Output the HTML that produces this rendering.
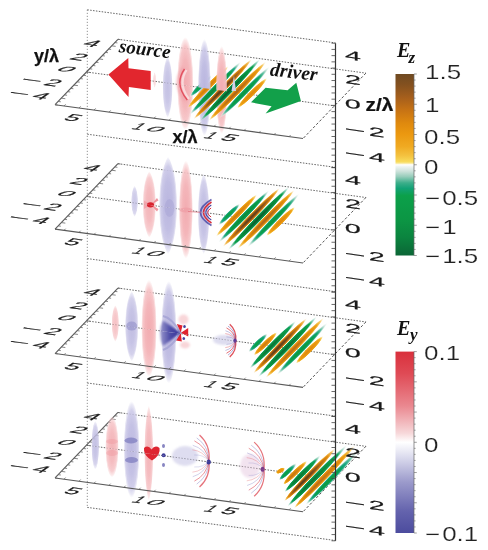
<!DOCTYPE html>
<html><head><meta charset="utf-8"><title>Fields</title><style>
html,body{margin:0;padding:0;background:#fff;}
svg{display:block;}
.dot{stroke:#555;stroke-width:0.9;stroke-dasharray:1.5 1.4;fill:none}
.vdot{stroke:#888;stroke-width:0.9;stroke-dasharray:1.2 1.8;fill:none}
.dash{stroke:#555;stroke-width:1;stroke-dasharray:2.6 2;fill:none}
.ax{stroke:#5a5a5a;stroke-width:1.1;fill:none}
.zax{stroke:#333;stroke-width:1.2}
.tk{stroke:#666;stroke-width:0.8}
.ztk{stroke:#444;stroke-width:0.8}
.cbax{stroke:#666;stroke-width:0.7}
.cbt{stroke:#777;stroke-width:0.7}
.lab{font-family:"Liberation Sans",sans-serif;fill:#1a1a1a;stroke:#1a1a1a;stroke-width:0.15}
.axl{font-family:"Liberation Sans",sans-serif;font-weight:bold;fill:#111;stroke:#111;stroke-width:0.25}
.ann{font-family:"Liberation Serif",serif;font-weight:bold;font-style:italic;fill:#111}
.cbl{font-family:"Liberation Sans",sans-serif;fill:#222;stroke:#fff;stroke-width:0.2}
.ttl{font-family:"Liberation Serif",serif;font-weight:bold;font-style:italic;fill:#111}
</style></head>
<body><svg width="488" height="550" viewBox="0 0 488 550">
<defs><linearGradient id="gz" x1="0" y1="0" x2="0" y2="1">
<stop offset="0" stop-color="#6f4a22"/>
<stop offset="0.06" stop-color="#84511f"/>
<stop offset="0.13" stop-color="#a65f1c"/>
<stop offset="0.2" stop-color="#c77314"/>
<stop offset="0.27" stop-color="#df890e"/>
<stop offset="0.33" stop-color="#eb9810"/>
<stop offset="0.4" stop-color="#f0aa22"/>
<stop offset="0.45" stop-color="#f4c240"/>
<stop offset="0.485" stop-color="#f8dc5c"/>
<stop offset="0.494" stop-color="#fbeeb0"/>
<stop offset="0.5" stop-color="#ffffff"/>
<stop offset="0.51" stop-color="#eef4f2"/>
<stop offset="0.535" stop-color="#cfe3dc"/>
<stop offset="0.565" stop-color="#98cdbb"/>
<stop offset="0.6" stop-color="#3cae8a"/>
<stop offset="0.63" stop-color="#12a276"/>
<stop offset="0.67" stop-color="#0ca04a"/>
<stop offset="0.8" stop-color="#0c9644"/>
<stop offset="0.9" stop-color="#0b843f"/>
<stop offset="1" stop-color="#0b6636"/>
</linearGradient><linearGradient id="gy" x1="0" y1="0" x2="0" y2="1">
<stop offset="0" stop-color="#d9303c"/>
<stop offset="0.12" stop-color="#df4a55"/>
<stop offset="0.3" stop-color="#ea8890"/>
<stop offset="0.45" stop-color="#f7d8da"/>
<stop offset="0.5" stop-color="#ffffff"/>
<stop offset="0.58" stop-color="#dcdcee"/>
<stop offset="0.72" stop-color="#9b9acb"/>
<stop offset="0.88" stop-color="#6463ad"/>
<stop offset="1" stop-color="#4c4c9e"/>
</linearGradient><clipPath id="up0"><polygon points="0,-128 488,-128 488,126.8 -13.5,58.35"/></clipPath><clipPath id="dn0"><polygon points="0,372 488,372 488,126.8 -13.5,58.35"/></clipPath><clipPath id="up1"><polygon points="0,-3.6 488,-3.6 488,251.2 -13.5,182.75"/></clipPath><clipPath id="dn1"><polygon points="0,496.4 488,496.4 488,251.2 -13.5,182.75"/></clipPath><clipPath id="up2"><polygon points="0,120.8 488,120.8 488,375.6 -13.5,307.15"/></clipPath><clipPath id="dn2"><polygon points="0,620.8 488,620.8 488,375.6 -13.5,307.15"/></clipPath><clipPath id="up3"><polygon points="0,245.2 488,245.2 488,500 -13.5,431.55"/></clipPath><clipPath id="dn3"><polygon points="0,745.2 488,745.2 488,500 -13.5,431.55"/></clipPath><radialGradient id="rb"><stop offset="0" stop-color="#f2acb1"/><stop offset="0.5" stop-color="#f4b6ba"/><stop offset="0.8" stop-color="#f6c2c5" stop-opacity="0.9"/><stop offset="0.93" stop-color="#f8d0d2" stop-opacity="0.5"/><stop offset="1" stop-color="#fadcdd" stop-opacity="0"/></radialGradient>
<radialGradient id="bb"><stop offset="0" stop-color="#bab6df"/><stop offset="0.5" stop-color="#c1bee3"/><stop offset="0.8" stop-color="#cac7e7" stop-opacity="0.9"/><stop offset="0.93" stop-color="#d6d4ed" stop-opacity="0.5"/><stop offset="1" stop-color="#e2e0f2" stop-opacity="0"/></radialGradient>
<linearGradient id="wedge" x1="1" y1="0" x2="0" y2="0"><stop offset="0" stop-color="#34329a"/><stop offset="0.5" stop-color="#4a49a5"/><stop offset="1" stop-color="#7f7dbf" stop-opacity="0.7"/></linearGradient>
<filter id="bl05" x="-50%" y="-50%" width="200%" height="200%"><feGaussianBlur stdDeviation="0.35"/></filter>
<filter id="bl1" x="-50%" y="-20%" width="200%" height="140%"><feGaussianBlur stdDeviation="0.7"/></filter>
<filter id="bl2" x="-50%" y="-50%" width="200%" height="200%"><feGaussianBlur stdDeviation="1.2"/></filter><radialGradient id="sg1" fy="0.45"><stop offset="0" stop-color="#0d9d49" stop-opacity="1"/><stop offset="0.25" stop-color="#0d9f4a" stop-opacity="1"/><stop offset="0.45" stop-color="#0fa35c" stop-opacity="1"/><stop offset="0.62" stop-color="#16a681" stop-opacity="1"/><stop offset="0.76" stop-color="#66c2a4" stop-opacity="1"/><stop offset="0.88" stop-color="#d3e7e1" stop-opacity="0.7"/><stop offset="1.0" stop-color="#ffffff" stop-opacity="0"/></radialGradient><radialGradient id="sg2" fy="0.45"><stop offset="0" stop-color="#cd7b12" stop-opacity="1"/><stop offset="0.25" stop-color="#d58010" stop-opacity="1"/><stop offset="0.45" stop-color="#df8a0f" stop-opacity="1"/><stop offset="0.62" stop-color="#e9960f" stop-opacity="1"/><stop offset="0.76" stop-color="#efa61e" stop-opacity="1"/><stop offset="0.88" stop-color="#f5c13a" stop-opacity="0.7"/><stop offset="1.0" stop-color="#ffffff" stop-opacity="0"/></radialGradient><radialGradient id="sg3" fy="0.45"><stop offset="0" stop-color="#0c883e" stop-opacity="1"/><stop offset="0.25" stop-color="#0c8d40" stop-opacity="1"/><stop offset="0.45" stop-color="#0c9544" stop-opacity="1"/><stop offset="0.62" stop-color="#0d9e4a" stop-opacity="1"/><stop offset="0.76" stop-color="#27ac88" stop-opacity="1"/><stop offset="0.88" stop-color="#aedacb" stop-opacity="0.7"/><stop offset="1.0" stop-color="#ffffff" stop-opacity="0"/></radialGradient><radialGradient id="sg4" fy="0.45"><stop offset="0" stop-color="#603d17" stop-opacity="1"/><stop offset="0.25" stop-color="#6f4519" stop-opacity="1"/><stop offset="0.45" stop-color="#90561b" stop-opacity="1"/><stop offset="0.62" stop-color="#bf7116" stop-opacity="1"/><stop offset="0.76" stop-color="#e08b0f" stop-opacity="1"/><stop offset="0.88" stop-color="#f0a71e" stop-opacity="0.7"/><stop offset="1.0" stop-color="#ffffff" stop-opacity="0"/></radialGradient><radialGradient id="sg5" fy="0.45"><stop offset="0" stop-color="#095d2f" stop-opacity="1"/><stop offset="0.25" stop-color="#0a6834" stop-opacity="1"/><stop offset="0.45" stop-color="#0b7c3a" stop-opacity="1"/><stop offset="0.62" stop-color="#0c9142" stop-opacity="1"/><stop offset="0.76" stop-color="#0d9f4a" stop-opacity="1"/><stop offset="0.88" stop-color="#6dc5a8" stop-opacity="0.7"/><stop offset="1.0" stop-color="#ffffff" stop-opacity="0"/></radialGradient><radialGradient id="sg6" fy="0.45"><stop offset="0" stop-color="#ab6519" stop-opacity="1"/><stop offset="0.25" stop-color="#b76b18" stop-opacity="1"/><stop offset="0.45" stop-color="#cc7a12" stop-opacity="1"/><stop offset="0.62" stop-color="#e08b0f" stop-opacity="1"/><stop offset="0.76" stop-color="#ec9d15" stop-opacity="1"/><stop offset="0.88" stop-color="#f3b62e" stop-opacity="0.7"/><stop offset="1.0" stop-color="#ffffff" stop-opacity="0"/></radialGradient><radialGradient id="sg7" fy="0.45"><stop offset="0" stop-color="#0c9544" stop-opacity="1"/><stop offset="0.25" stop-color="#0c9846" stop-opacity="1"/><stop offset="0.45" stop-color="#0d9e49" stop-opacity="1"/><stop offset="0.62" stop-color="#11a46c" stop-opacity="1"/><stop offset="0.76" stop-color="#63c1a3" stop-opacity="1"/><stop offset="0.88" stop-color="#c5e2d8" stop-opacity="0.7"/><stop offset="1.0" stop-color="#ffffff" stop-opacity="0"/></radialGradient><radialGradient id="sg8" fy="0.45"><stop offset="0" stop-color="#de880f" stop-opacity="1"/><stop offset="0.25" stop-color="#e18c0e" stop-opacity="1"/><stop offset="0.45" stop-color="#e8930e" stop-opacity="1"/><stop offset="0.62" stop-color="#eb9a13" stop-opacity="1"/><stop offset="0.76" stop-color="#f0a61e" stop-opacity="1"/><stop offset="0.88" stop-color="#f7c942" stop-opacity="0.7"/><stop offset="1.0" stop-color="#ffffff" stop-opacity="0"/></radialGradient><radialGradient id="sg9" fy="0.5"><stop offset="0" stop-color="#0d9d49" stop-opacity="1"/><stop offset="0.25" stop-color="#0d9f4a" stop-opacity="1"/><stop offset="0.45" stop-color="#0fa35c" stop-opacity="1"/><stop offset="0.62" stop-color="#16a681" stop-opacity="1"/><stop offset="0.76" stop-color="#66c2a4" stop-opacity="1"/><stop offset="0.88" stop-color="#d3e7e1" stop-opacity="0.7"/><stop offset="1.0" stop-color="#ffffff" stop-opacity="0"/></radialGradient><radialGradient id="sg10" fy="0.5"><stop offset="0" stop-color="#cd7b12" stop-opacity="1"/><stop offset="0.25" stop-color="#d58010" stop-opacity="1"/><stop offset="0.45" stop-color="#df8a0f" stop-opacity="1"/><stop offset="0.62" stop-color="#e9960f" stop-opacity="1"/><stop offset="0.76" stop-color="#efa61e" stop-opacity="1"/><stop offset="0.88" stop-color="#f5c13a" stop-opacity="0.7"/><stop offset="1.0" stop-color="#ffffff" stop-opacity="0"/></radialGradient><radialGradient id="sg11" fy="0.5"><stop offset="0" stop-color="#0c883e" stop-opacity="1"/><stop offset="0.25" stop-color="#0c8d40" stop-opacity="1"/><stop offset="0.45" stop-color="#0c9544" stop-opacity="1"/><stop offset="0.62" stop-color="#0d9e4a" stop-opacity="1"/><stop offset="0.76" stop-color="#27ac88" stop-opacity="1"/><stop offset="0.88" stop-color="#aedacb" stop-opacity="0.7"/><stop offset="1.0" stop-color="#ffffff" stop-opacity="0"/></radialGradient><radialGradient id="sg12" fy="0.5"><stop offset="0" stop-color="#603d17" stop-opacity="1"/><stop offset="0.25" stop-color="#6f4519" stop-opacity="1"/><stop offset="0.45" stop-color="#90561b" stop-opacity="1"/><stop offset="0.62" stop-color="#bf7116" stop-opacity="1"/><stop offset="0.76" stop-color="#e08b0f" stop-opacity="1"/><stop offset="0.88" stop-color="#f0a71e" stop-opacity="0.7"/><stop offset="1.0" stop-color="#ffffff" stop-opacity="0"/></radialGradient><radialGradient id="sg13" fy="0.5"><stop offset="0" stop-color="#095d2f" stop-opacity="1"/><stop offset="0.25" stop-color="#0a6834" stop-opacity="1"/><stop offset="0.45" stop-color="#0b7c3a" stop-opacity="1"/><stop offset="0.62" stop-color="#0c9142" stop-opacity="1"/><stop offset="0.76" stop-color="#0d9f4a" stop-opacity="1"/><stop offset="0.88" stop-color="#6dc5a8" stop-opacity="0.7"/><stop offset="1.0" stop-color="#ffffff" stop-opacity="0"/></radialGradient><radialGradient id="sg14" fy="0.5"><stop offset="0" stop-color="#ab6519" stop-opacity="1"/><stop offset="0.25" stop-color="#b76b18" stop-opacity="1"/><stop offset="0.45" stop-color="#cc7a12" stop-opacity="1"/><stop offset="0.62" stop-color="#e08b0f" stop-opacity="1"/><stop offset="0.76" stop-color="#ec9d15" stop-opacity="1"/><stop offset="0.88" stop-color="#f3b62e" stop-opacity="0.7"/><stop offset="1.0" stop-color="#ffffff" stop-opacity="0"/></radialGradient><radialGradient id="sg15" fy="0.5"><stop offset="0" stop-color="#0c9544" stop-opacity="1"/><stop offset="0.25" stop-color="#0c9846" stop-opacity="1"/><stop offset="0.45" stop-color="#0d9e49" stop-opacity="1"/><stop offset="0.62" stop-color="#11a46c" stop-opacity="1"/><stop offset="0.76" stop-color="#63c1a3" stop-opacity="1"/><stop offset="0.88" stop-color="#c5e2d8" stop-opacity="0.7"/><stop offset="1.0" stop-color="#ffffff" stop-opacity="0"/></radialGradient><radialGradient id="sg16" fy="0.5"><stop offset="0" stop-color="#de880f" stop-opacity="1"/><stop offset="0.25" stop-color="#e18c0e" stop-opacity="1"/><stop offset="0.45" stop-color="#e8930e" stop-opacity="1"/><stop offset="0.62" stop-color="#eb9a13" stop-opacity="1"/><stop offset="0.76" stop-color="#f0a61e" stop-opacity="1"/><stop offset="0.88" stop-color="#f7c942" stop-opacity="0.7"/><stop offset="1.0" stop-color="#ffffff" stop-opacity="0"/></radialGradient><radialGradient id="sg17" fy="0.45"><stop offset="0" stop-color="#0d9d49" stop-opacity="1"/><stop offset="0.25" stop-color="#0d9f4a" stop-opacity="1"/><stop offset="0.45" stop-color="#0fa35c" stop-opacity="1"/><stop offset="0.62" stop-color="#16a681" stop-opacity="1"/><stop offset="0.76" stop-color="#66c2a4" stop-opacity="1"/><stop offset="0.88" stop-color="#d3e7e1" stop-opacity="0.7"/><stop offset="1.0" stop-color="#ffffff" stop-opacity="0"/></radialGradient><radialGradient id="sg18" fy="0.45"><stop offset="0" stop-color="#cd7b12" stop-opacity="1"/><stop offset="0.25" stop-color="#d58010" stop-opacity="1"/><stop offset="0.45" stop-color="#df8a0f" stop-opacity="1"/><stop offset="0.62" stop-color="#e9960f" stop-opacity="1"/><stop offset="0.76" stop-color="#efa61e" stop-opacity="1"/><stop offset="0.88" stop-color="#f5c13a" stop-opacity="0.7"/><stop offset="1.0" stop-color="#ffffff" stop-opacity="0"/></radialGradient><radialGradient id="sg19" fy="0.45"><stop offset="0" stop-color="#0a7438" stop-opacity="1"/><stop offset="0.25" stop-color="#0b7b3a" stop-opacity="1"/><stop offset="0.45" stop-color="#0c8b3f" stop-opacity="1"/><stop offset="0.62" stop-color="#0c9846" stop-opacity="1"/><stop offset="0.76" stop-color="#0fa35d" stop-opacity="1"/><stop offset="0.88" stop-color="#8dcfba" stop-opacity="0.7"/><stop offset="1.0" stop-color="#ffffff" stop-opacity="0"/></radialGradient><radialGradient id="sg20" fy="0.45"><stop offset="0" stop-color="#603d17" stop-opacity="1"/><stop offset="0.25" stop-color="#6f4519" stop-opacity="1"/><stop offset="0.45" stop-color="#90561b" stop-opacity="1"/><stop offset="0.62" stop-color="#bf7116" stop-opacity="1"/><stop offset="0.76" stop-color="#e08b0f" stop-opacity="1"/><stop offset="0.88" stop-color="#f0a71e" stop-opacity="0.7"/><stop offset="1.0" stop-color="#ffffff" stop-opacity="0"/></radialGradient><radialGradient id="sg21" fy="0.45"><stop offset="0" stop-color="#0a6e36" stop-opacity="1"/><stop offset="0.25" stop-color="#0a7538" stop-opacity="1"/><stop offset="0.45" stop-color="#0b863d" stop-opacity="1"/><stop offset="0.62" stop-color="#0c9645" stop-opacity="1"/><stop offset="0.76" stop-color="#0da24d" stop-opacity="1"/><stop offset="0.88" stop-color="#83ccb4" stop-opacity="0.7"/><stop offset="1.0" stop-color="#ffffff" stop-opacity="0"/></radialGradient><radialGradient id="sg22" fy="0.45"><stop offset="0" stop-color="#b86c18" stop-opacity="1"/><stop offset="0.25" stop-color="#c17216" stop-opacity="1"/><stop offset="0.45" stop-color="#d47f10" stop-opacity="1"/><stop offset="0.62" stop-color="#e38e0e" stop-opacity="1"/><stop offset="0.76" stop-color="#eda018" stop-opacity="1"/><stop offset="0.88" stop-color="#f4ba32" stop-opacity="0.7"/><stop offset="1.0" stop-color="#ffffff" stop-opacity="0"/></radialGradient><radialGradient id="sg23" fy="0.45"><stop offset="0" stop-color="#0c9544" stop-opacity="1"/><stop offset="0.25" stop-color="#0c9846" stop-opacity="1"/><stop offset="0.45" stop-color="#0d9e49" stop-opacity="1"/><stop offset="0.62" stop-color="#11a46c" stop-opacity="1"/><stop offset="0.76" stop-color="#63c1a3" stop-opacity="1"/><stop offset="0.88" stop-color="#c5e2d8" stop-opacity="0.7"/><stop offset="1.0" stop-color="#ffffff" stop-opacity="0"/></radialGradient><radialGradient id="sg24" fy="0.45"><stop offset="0" stop-color="#de880f" stop-opacity="1"/><stop offset="0.25" stop-color="#e18c0e" stop-opacity="1"/><stop offset="0.45" stop-color="#e8930e" stop-opacity="1"/><stop offset="0.62" stop-color="#eb9a13" stop-opacity="1"/><stop offset="0.76" stop-color="#f0a61e" stop-opacity="1"/><stop offset="0.88" stop-color="#f7c942" stop-opacity="0.7"/><stop offset="1.0" stop-color="#ffffff" stop-opacity="0"/></radialGradient><radialGradient id="sg25" fy="0.33"><stop offset="0" stop-color="#e9950e" stop-opacity="1"/><stop offset="0.25" stop-color="#e9950e" stop-opacity="1"/><stop offset="0.45" stop-color="#e9960f" stop-opacity="1"/><stop offset="0.62" stop-color="#eb9a13" stop-opacity="1"/><stop offset="0.76" stop-color="#f0a61e" stop-opacity="1"/><stop offset="0.88" stop-color="#f8d35a" stop-opacity="0.7"/><stop offset="1.0" stop-color="#ffffff" stop-opacity="0"/></radialGradient><radialGradient id="sg26" fy="0.33"><stop offset="0" stop-color="#0d9b48" stop-opacity="1"/><stop offset="0.25" stop-color="#0d9d49" stop-opacity="1"/><stop offset="0.45" stop-color="#0da24e" stop-opacity="1"/><stop offset="0.62" stop-color="#16a681" stop-opacity="1"/><stop offset="0.76" stop-color="#66c2a4" stop-opacity="1"/><stop offset="0.88" stop-color="#d0e6df" stop-opacity="0.7"/><stop offset="1.0" stop-color="#ffffff" stop-opacity="0"/></radialGradient><radialGradient id="sg27" fy="0.33"><stop offset="0" stop-color="#c37315" stop-opacity="1"/><stop offset="0.25" stop-color="#cb7913" stop-opacity="1"/><stop offset="0.45" stop-color="#da850f" stop-opacity="1"/><stop offset="0.62" stop-color="#e6920e" stop-opacity="1"/><stop offset="0.76" stop-color="#eea31b" stop-opacity="1"/><stop offset="0.88" stop-color="#f5be36" stop-opacity="0.7"/><stop offset="1.0" stop-color="#ffffff" stop-opacity="0"/></radialGradient><radialGradient id="sg28" fy="0.33"><stop offset="0" stop-color="#0a7438" stop-opacity="1"/><stop offset="0.25" stop-color="#0b7b3a" stop-opacity="1"/><stop offset="0.45" stop-color="#0c8b3f" stop-opacity="1"/><stop offset="0.62" stop-color="#0c9846" stop-opacity="1"/><stop offset="0.76" stop-color="#0fa35d" stop-opacity="1"/><stop offset="0.88" stop-color="#8dcfba" stop-opacity="0.7"/><stop offset="1.0" stop-color="#ffffff" stop-opacity="0"/></radialGradient><radialGradient id="sg29" fy="0.33"><stop offset="0" stop-color="#603d17" stop-opacity="1"/><stop offset="0.25" stop-color="#6f4519" stop-opacity="1"/><stop offset="0.45" stop-color="#90561b" stop-opacity="1"/><stop offset="0.62" stop-color="#bf7116" stop-opacity="1"/><stop offset="0.76" stop-color="#e08b0f" stop-opacity="1"/><stop offset="0.88" stop-color="#f0a71e" stop-opacity="0.7"/><stop offset="1.0" stop-color="#ffffff" stop-opacity="0"/></radialGradient><radialGradient id="sg30" fy="0.33"><stop offset="0" stop-color="#0a7438" stop-opacity="1"/><stop offset="0.25" stop-color="#0b7b3a" stop-opacity="1"/><stop offset="0.45" stop-color="#0c8b3f" stop-opacity="1"/><stop offset="0.62" stop-color="#0c9846" stop-opacity="1"/><stop offset="0.76" stop-color="#0fa35d" stop-opacity="1"/><stop offset="0.88" stop-color="#8dcfba" stop-opacity="0.7"/><stop offset="1.0" stop-color="#ffffff" stop-opacity="0"/></radialGradient><radialGradient id="sg31" fy="0.33"><stop offset="0" stop-color="#b86c18" stop-opacity="1"/><stop offset="0.25" stop-color="#c17216" stop-opacity="1"/><stop offset="0.45" stop-color="#d47f10" stop-opacity="1"/><stop offset="0.62" stop-color="#e38e0e" stop-opacity="1"/><stop offset="0.76" stop-color="#eda018" stop-opacity="1"/><stop offset="0.88" stop-color="#f4ba32" stop-opacity="0.7"/><stop offset="1.0" stop-color="#ffffff" stop-opacity="0"/></radialGradient><radialGradient id="sg32" fy="0.33"><stop offset="0" stop-color="#0d9947" stop-opacity="1"/><stop offset="0.25" stop-color="#0d9b48" stop-opacity="1"/><stop offset="0.45" stop-color="#0da04b" stop-opacity="1"/><stop offset="0.62" stop-color="#16a681" stop-opacity="1"/><stop offset="0.76" stop-color="#66c2a4" stop-opacity="1"/><stop offset="0.88" stop-color="#cce5dc" stop-opacity="0.7"/><stop offset="1.0" stop-color="#ffffff" stop-opacity="0"/></radialGradient></defs>
<rect width="488" height="550" fill="#fff"/>
<g id="frame">
<line x1="87.3" y1="9.8" x2="335.5" y2="42.9" class="dot"/>
<line x1="87.3" y1="134.2" x2="335.5" y2="167.3" class="dot"/>
<line x1="87.3" y1="258.6" x2="335.5" y2="291.7" class="dot"/>
<line x1="87.3" y1="383" x2="335.5" y2="416.1" class="dot"/>
<line x1="87.3" y1="507.4" x2="335.5" y2="540.5" class="dot"/>
<line x1="87.3" y1="9.8" x2="87.3" y2="507.4" class="vdot"/>
</g>
<g id="planesback">
<line x1="117.95" y1="39.27" x2="365.9" y2="73.12" class="dot"/>
<line x1="365.9" y1="73.12" x2="303" y2="138.57" class="dash"/>
<line x1="86.5" y1="72" x2="334.45" y2="105.85" class="dot"/>
<line x1="86.5" y1="72" x2="117.95" y2="39.27" class="ax"/>
<line x1="89.64" y1="68.73" x2="92.24" y2="69.08" class="tk"/>
<line x1="92.79" y1="65.45" x2="95.39" y2="65.81" class="tk"/>
<line x1="95.94" y1="62.18" x2="98.53" y2="62.54" class="tk"/>
<line x1="99.08" y1="58.91" x2="103.08" y2="59.46" class="tk"/>
<line x1="102.22" y1="55.64" x2="104.82" y2="55.99" class="tk"/>
<line x1="105.37" y1="52.37" x2="107.97" y2="52.72" class="tk"/>
<line x1="108.52" y1="49.09" x2="111.11" y2="49.45" class="tk"/>
<line x1="111.66" y1="45.82" x2="115.66" y2="46.37" class="tk"/>
<line x1="114.81" y1="42.55" x2="117.41" y2="42.9" class="tk"/>
<line x1="117.95" y1="39.27" x2="120.55" y2="39.63" class="tk"/>
<line x1="117.95" y1="163.68" x2="365.9" y2="197.52" class="dot"/>
<line x1="365.9" y1="197.52" x2="303" y2="262.97" class="dash"/>
<line x1="86.5" y1="196.4" x2="334.45" y2="230.25" class="dot"/>
<line x1="86.5" y1="196.4" x2="117.95" y2="163.68" class="ax"/>
<line x1="89.64" y1="193.13" x2="92.24" y2="193.48" class="tk"/>
<line x1="92.79" y1="189.86" x2="95.39" y2="190.21" class="tk"/>
<line x1="95.94" y1="186.58" x2="98.53" y2="186.94" class="tk"/>
<line x1="99.08" y1="183.31" x2="103.08" y2="183.86" class="tk"/>
<line x1="102.22" y1="180.04" x2="104.82" y2="180.39" class="tk"/>
<line x1="105.37" y1="176.77" x2="107.97" y2="177.12" class="tk"/>
<line x1="108.52" y1="173.49" x2="111.11" y2="173.85" class="tk"/>
<line x1="111.66" y1="170.22" x2="115.66" y2="170.77" class="tk"/>
<line x1="114.81" y1="166.95" x2="117.41" y2="167.3" class="tk"/>
<line x1="117.95" y1="163.68" x2="120.55" y2="164.03" class="tk"/>
<line x1="117.95" y1="288.07" x2="365.9" y2="321.92" class="dot"/>
<line x1="365.9" y1="321.92" x2="303" y2="387.37" class="dash"/>
<line x1="86.5" y1="320.8" x2="334.45" y2="354.65" class="dot"/>
<line x1="86.5" y1="320.8" x2="117.95" y2="288.07" class="ax"/>
<line x1="89.64" y1="317.53" x2="92.24" y2="317.88" class="tk"/>
<line x1="92.79" y1="314.25" x2="95.39" y2="314.61" class="tk"/>
<line x1="95.94" y1="310.98" x2="98.53" y2="311.34" class="tk"/>
<line x1="99.08" y1="307.71" x2="103.08" y2="308.26" class="tk"/>
<line x1="102.22" y1="304.44" x2="104.82" y2="304.79" class="tk"/>
<line x1="105.37" y1="301.17" x2="107.97" y2="301.52" class="tk"/>
<line x1="108.52" y1="297.89" x2="111.11" y2="298.25" class="tk"/>
<line x1="111.66" y1="294.62" x2="115.66" y2="295.17" class="tk"/>
<line x1="114.81" y1="291.35" x2="117.41" y2="291.7" class="tk"/>
<line x1="117.95" y1="288.07" x2="120.55" y2="288.43" class="tk"/>
<line x1="117.95" y1="412.48" x2="365.9" y2="446.32" class="dot"/>
<line x1="365.9" y1="446.32" x2="303" y2="511.77" class="dash"/>
<line x1="86.5" y1="445.2" x2="334.45" y2="479.05" class="dot"/>
<line x1="86.5" y1="445.2" x2="117.95" y2="412.48" class="ax"/>
<line x1="89.64" y1="441.93" x2="92.24" y2="442.28" class="tk"/>
<line x1="92.79" y1="438.66" x2="95.39" y2="439.01" class="tk"/>
<line x1="95.94" y1="435.38" x2="98.53" y2="435.74" class="tk"/>
<line x1="99.08" y1="432.11" x2="103.08" y2="432.66" class="tk"/>
<line x1="102.22" y1="428.84" x2="104.82" y2="429.19" class="tk"/>
<line x1="105.37" y1="425.57" x2="107.97" y2="425.92" class="tk"/>
<line x1="108.52" y1="422.29" x2="111.11" y2="422.65" class="tk"/>
<line x1="111.66" y1="419.02" x2="115.66" y2="419.57" class="tk"/>
<line x1="114.81" y1="415.75" x2="117.41" y2="416.1" class="tk"/>
<line x1="117.95" y1="412.48" x2="120.55" y2="412.83" class="tk"/>
</g>
<g clip-path="url(#dn0)"><g filter="url(#bl1)">
<path d="M154.6,72 C156.76,75.52 156.76,84.48 154.6,88 C152.44,84.48 152.44,75.52 154.6,72Z" fill="url(#rb)" opacity="0.45"/>
<path d="M167.6,56 C174.44,69.64 174.44,104.36 167.6,118 C160.76,104.36 160.76,69.64 167.6,56Z" fill="url(#bb)" opacity="0.85"/>
<ellipse cx="185.3" cy="83.5" rx="8.25" ry="46.5" fill="url(#rb)" opacity="1"/>
<ellipse cx="204.4" cy="87.5" rx="6.5" ry="48.5" fill="url(#bb)" opacity="1.0"/>
<ellipse cx="221.6" cy="90" rx="5.75" ry="44" fill="url(#rb)" opacity="1"/>
</g>
<path d="M183.5,68 Q172,84 186.3,101" fill="none" stroke="#f0a0a8" stroke-width="4" opacity="0.6" filter="url(#bl2)"/><path d="M186.5,70 Q177.5,84 188.8,99" fill="none" stroke="#fdf0f0" stroke-width="2.2" opacity="0.65" filter="url(#bl1)"/><path d="M184.5,69 Q174,84 187.3,100" fill="none" stroke="#e04656" stroke-width="1.4" opacity="0.9" filter="url(#bl05)"/><polygon points="231.5,91 236,91 234,75.5" fill="#d3d0ea"/>
</g>
<g>
<ellipse cx="0" cy="0" rx="3.46" ry="1.68" fill="url(#sg1)" transform="matrix(1,0.1365,6.29,-6.545,200.66,86.1)" />
<ellipse cx="0" cy="0" rx="3.71" ry="3.25" fill="url(#sg2)" transform="matrix(1,0.1365,6.29,-6.545,208.01,87.11)" />
<ellipse cx="0" cy="0" rx="3.84" ry="4.1" fill="url(#sg3)" transform="matrix(1,0.1365,6.29,-6.545,215.36,88.11)" />
<ellipse cx="0" cy="0" rx="3.9" ry="4.65" fill="url(#sg4)" transform="matrix(1,0.1365,6.29,-6.545,222.71,89.11)" />
<ellipse cx="0" cy="0" rx="3.9" ry="4.82" fill="url(#sg5)" transform="matrix(1,0.1365,6.29,-6.545,230.06,90.11)" />
<ellipse cx="0" cy="0" rx="3.9" ry="4.56" fill="url(#sg6)" transform="matrix(1,0.1365,6.29,-6.545,237.41,91.12)" />
<ellipse cx="0" cy="0" rx="3.82" ry="3.96" fill="url(#sg7)" transform="matrix(1,0.1365,6.29,-6.545,244.76,92.12)" />
<ellipse cx="0" cy="0" rx="3.57" ry="2.35" fill="url(#sg8)" transform="matrix(1,0.1365,6.29,-6.545,252.11,93.12)" />
</g>
<g clip-path="url(#up0)"><g filter="url(#bl1)">
<path d="M154.6,72 C156.76,75.52 156.76,84.48 154.6,88 C152.44,84.48 152.44,75.52 154.6,72Z" fill="url(#rb)" opacity="0.45"/>
<path d="M167.6,56 C174.44,69.64 174.44,104.36 167.6,118 C160.76,104.36 160.76,69.64 167.6,56Z" fill="url(#bb)" opacity="0.85"/>
<ellipse cx="185.3" cy="83.5" rx="8.25" ry="46.5" fill="url(#rb)" opacity="1"/>
<ellipse cx="204.4" cy="87.5" rx="6.5" ry="48.5" fill="url(#bb)" opacity="1.0"/>
<ellipse cx="221.6" cy="90" rx="5.75" ry="44" fill="url(#rb)" opacity="1"/>
</g>
<path d="M183.5,68 Q172,84 186.3,101" fill="none" stroke="#f0a0a8" stroke-width="4" opacity="0.6" filter="url(#bl2)"/><path d="M186.5,70 Q177.5,84 188.8,99" fill="none" stroke="#fdf0f0" stroke-width="2.2" opacity="0.65" filter="url(#bl1)"/><path d="M184.5,69 Q174,84 187.3,100" fill="none" stroke="#e04656" stroke-width="1.4" opacity="0.9" filter="url(#bl05)"/><polygon points="231.5,91 236,91 234,75.5" fill="#d3d0ea"/>
</g>
<g clip-path="url(#dn1)"><g filter="url(#bl1)">
<path d="M134.6,185.6 C139.28,192.51 139.28,210.09 134.6,217 C129.92,210.09 129.92,192.51 134.6,185.6Z" fill="url(#bb)" opacity="0.75"/>
<path d="M149.3,171 C158.3,185.74 158.3,223.26 149.3,238 C140.3,223.26 140.3,185.74 149.3,171Z" fill="url(#rb)" opacity="0.9"/>
<path d="M168.1,156.3 C180.34,177.93 180.34,232.97 168.1,254.6 C155.86,232.97 155.86,177.93 168.1,156.3Z" fill="url(#bb)" opacity="1"/>
<ellipse cx="185.9" cy="209.65" rx="7" ry="49.15" fill="url(#rb)" opacity="1"/>
<path d="M203.7,173 C211.62,190.95 211.62,236.65 203.7,254.6 C195.78,236.65 195.78,190.95 203.7,173Z" fill="url(#bb)" opacity="0.9"/>
</g>
<g filter="url(#bl1)"><path d="M151,204.8 L157,198 L158.5,200.5 Z M151,204.8 L157,211.5 L158.5,209 Z" fill="#ee8a93" opacity="0.9"/><path d="M151,204.8 L144,200.5 L144,209 Z" fill="#f09aa2" opacity="0.7"/><ellipse cx="150.5" cy="204.8" rx="3.6" ry="2.6" fill="#d8222f"/><ellipse cx="169.5" cy="208" rx="5" ry="9" fill="#a3a1d3" opacity="0.45"/><ellipse cx="186" cy="210" rx="6.5" ry="2.5" fill="#ee9aa1" opacity="0.6"/><path d="M211.5,199.5 Q189.5,212.5 211.5,225.5" stroke="#4e4ca6" stroke-width="1.8" fill="none" opacity="0.85"/><path d="M211.5,202.0 Q195.5,212.5 211.5,223.0" stroke="#d8303c" stroke-width="1.5" fill="none" opacity="1"/><path d="M211.3,205.0 Q200.3,212.5 211.3,220.0" stroke="#4543a0" stroke-width="1.1" fill="none" opacity="1"/><path d="M211.1,208.0 Q204.1,212.5 211.1,217.0" stroke="#d8303c" stroke-width="1.0" fill="none" opacity="1"/><path d="M188,211.5 L201,212.3" stroke="#e06a78" stroke-width="1.2" opacity="0.6"/></g>
</g>
<g>
<ellipse cx="0" cy="0" rx="3.46" ry="1.68" fill="url(#sg9)" transform="matrix(1,0.1365,6.29,-6.545,229.16,214.39)" />
<ellipse cx="0" cy="0" rx="3.71" ry="3.25" fill="url(#sg10)" transform="matrix(1,0.1365,6.29,-6.545,236.51,215.4)" />
<ellipse cx="0" cy="0" rx="3.83" ry="4.03" fill="url(#sg11)" transform="matrix(1,0.1365,6.29,-6.545,243.86,216.4)" />
<ellipse cx="0" cy="0" rx="3.9" ry="4.54" fill="url(#sg12)" transform="matrix(1,0.1365,6.29,-6.545,251.21,217.4)" />
<ellipse cx="0" cy="0" rx="3.9" ry="4.87" fill="url(#sg13)" transform="matrix(1,0.1365,6.29,-6.545,258.56,218.41)" />
<ellipse cx="0" cy="0" rx="3.9" ry="4.54" fill="url(#sg14)" transform="matrix(1,0.1365,6.29,-6.545,265.91,219.41)" />
<ellipse cx="0" cy="0" rx="3.85" ry="4.14" fill="url(#sg15)" transform="matrix(1,0.1365,6.29,-6.545,273.26,220.41)" />
<ellipse cx="0" cy="0" rx="3.55" ry="2.24" fill="url(#sg16)" transform="matrix(1,0.1365,6.29,-6.545,280.61,221.42)" />
</g>
<g clip-path="url(#up1)"><g filter="url(#bl1)">
<path d="M134.6,185.6 C139.28,192.51 139.28,210.09 134.6,217 C129.92,210.09 129.92,192.51 134.6,185.6Z" fill="url(#bb)" opacity="0.75"/>
<path d="M149.3,171 C158.3,185.74 158.3,223.26 149.3,238 C140.3,223.26 140.3,185.74 149.3,171Z" fill="url(#rb)" opacity="0.9"/>
<path d="M168.1,156.3 C180.34,177.93 180.34,232.97 168.1,254.6 C155.86,232.97 155.86,177.93 168.1,156.3Z" fill="url(#bb)" opacity="1"/>
<ellipse cx="185.9" cy="209.65" rx="7" ry="49.15" fill="url(#rb)" opacity="1"/>
<path d="M203.7,173 C211.62,190.95 211.62,236.65 203.7,254.6 C195.78,236.65 195.78,190.95 203.7,173Z" fill="url(#bb)" opacity="0.9"/>
</g>
<g filter="url(#bl1)"><path d="M151,204.8 L157,198 L158.5,200.5 Z M151,204.8 L157,211.5 L158.5,209 Z" fill="#ee8a93" opacity="0.9"/><path d="M151,204.8 L144,200.5 L144,209 Z" fill="#f09aa2" opacity="0.7"/><ellipse cx="150.5" cy="204.8" rx="3.6" ry="2.6" fill="#d8222f"/><ellipse cx="169.5" cy="208" rx="5" ry="9" fill="#a3a1d3" opacity="0.45"/><ellipse cx="186" cy="210" rx="6.5" ry="2.5" fill="#ee9aa1" opacity="0.6"/><path d="M211.5,199.5 Q189.5,212.5 211.5,225.5" stroke="#4e4ca6" stroke-width="1.8" fill="none" opacity="0.85"/><path d="M211.5,202.0 Q195.5,212.5 211.5,223.0" stroke="#d8303c" stroke-width="1.5" fill="none" opacity="1"/><path d="M211.3,205.0 Q200.3,212.5 211.3,220.0" stroke="#4543a0" stroke-width="1.1" fill="none" opacity="1"/><path d="M211.1,208.0 Q204.1,212.5 211.1,217.0" stroke="#d8303c" stroke-width="1.0" fill="none" opacity="1"/><path d="M188,211.5 L201,212.3" stroke="#e06a78" stroke-width="1.2" opacity="0.6"/></g>
</g>
<g clip-path="url(#dn2)"><g filter="url(#bl1)">
<path d="M115.3,305 C120.34,313.14 120.34,333.86 115.3,342 C110.26,333.86 110.26,313.14 115.3,305Z" fill="url(#rb)" opacity="0.75"/>
<path d="M131.7,290.7 C140.7,306.32 140.7,346.08 131.7,361.7 C122.7,346.08 122.7,306.32 131.7,290.7Z" fill="url(#bb)" opacity="0.9"/>
<ellipse cx="149" cy="328.4" rx="7.75" ry="48.6" fill="url(#rb)" opacity="1"/>
<ellipse cx="168.8" cy="332.25" rx="7.75" ry="51.25" fill="url(#bb)" opacity="1"/>
</g>
<g filter="url(#bl1)"><ellipse cx="131.7" cy="326" rx="5.5" ry="4.5" fill="#8e8cc6" opacity="0.55"/><path d="M163,316 Q172,318 180.6,332.8 M163,350 Q172,347 180.6,332.8" stroke="#a3a1d3" stroke-width="2.2" fill="none" opacity="0.8"/><path d="M181,332.8 L163,320.5 Q157,333 163,346 Z" fill="url(#wedge)" filter="url(#bl2)"/><ellipse cx="183.5" cy="319.5" rx="5" ry="5" fill="#f3b4b9" opacity="0.55" filter="url(#bl2)"/><ellipse cx="185" cy="345" rx="5" ry="3.5" fill="#f3b4b9" opacity="0.55" filter="url(#bl2)"/><path d="M180.8,332.5 L176.8,324 L182.5,325.5 Z M181,332.8 L188.2,328 L188.2,336.5 Z M180.8,333 L176.2,340.5 L181.8,341.5 Z" fill="#e0202e"/><ellipse cx="184.5" cy="326.5" rx="1.3" ry="1.5" fill="#4543a0"/><ellipse cx="183.8" cy="338.5" rx="1.3" ry="1.5" fill="#4543a0"/></g><ellipse cx="224" cy="340" rx="11" ry="5" fill="#cfcde8" opacity="0.7" filter="url(#bl2)"/><g filter="url(#bl05)"><path d="M235.7,340.6 Q236.76,330.54 229.73,324.21" fill="none" stroke="#d8303c" stroke-width="1.3" opacity="0.85"/><path d="M235.7,340.6 Q236.76,350.66 229.73,356.99" fill="none" stroke="#d8303c" stroke-width="1.3" opacity="0.85"/><path d="M235.7,340.6 Q235.37,331.05 227.97,326.06" fill="none" stroke="#5a58b0" stroke-width="0.8" opacity="0.6"/><path d="M235.7,340.6 Q235.37,350.15 227.97,355.14" fill="none" stroke="#5a58b0" stroke-width="0.8" opacity="0.6"/><path d="M235.7,340.6 Q234.12,331.65 226.49,327.93" fill="none" stroke="#d8303c" stroke-width="1" opacity="0.7"/><path d="M235.7,340.6 Q234.12,349.55 226.49,353.27" fill="none" stroke="#d8303c" stroke-width="1" opacity="0.7"/><path d="M235.7,340.6 Q232.88,332.85 225.48,330.73" fill="none" stroke="#5a58b0" stroke-width="0.7" opacity="0.55"/><path d="M235.7,340.6 Q232.88,348.35 225.48,350.47" fill="none" stroke="#5a58b0" stroke-width="0.7" opacity="0.55"/><path d="M235.7,340.6 Q232.05,334.27 225.26,333.56" fill="none" stroke="#d8303c" stroke-width="0.7" opacity="0.5"/><path d="M235.7,340.6 Q232.05,346.93 225.26,347.64" fill="none" stroke="#d8303c" stroke-width="0.7" opacity="0.5"/><path d="M235.7,340.6 Q231.81,336.28 226.42,336.85" fill="none" stroke="#5a58b0" stroke-width="0.6" opacity="0.45"/><path d="M235.7,340.6 Q231.81,344.92 226.42,344.35" fill="none" stroke="#5a58b0" stroke-width="0.6" opacity="0.45"/></g><ellipse cx="235" cy="340.6" rx="1.6" ry="2.2" fill="#5a3a9a"/>
</g>
<g>
<ellipse cx="0" cy="0" rx="3.43" ry="1.46" fill="url(#sg17)" transform="matrix(1,0.1365,6.29,-6.545,258.06,342.74)" />
<ellipse cx="0" cy="0" rx="3.48" ry="1.79" fill="url(#sg18)" transform="matrix(1,0.1365,6.29,-6.545,265.41,343.74)" />
<ellipse cx="0" cy="0" rx="3.78" ry="3.7" fill="url(#sg19)" transform="matrix(1,0.1365,6.29,-6.545,272.76,344.74)" />
<ellipse cx="0" cy="0" rx="3.87" ry="4.26" fill="url(#sg20)" transform="matrix(1,0.1365,6.29,-6.545,280.11,345.75)" />
<ellipse cx="0" cy="0" rx="3.9" ry="4.7" fill="url(#sg21)" transform="matrix(1,0.1365,6.29,-6.545,287.46,346.75)" />
<ellipse cx="0" cy="0" rx="3.9" ry="4.65" fill="url(#sg22)" transform="matrix(1,0.1365,6.29,-6.545,294.81,347.75)" />
<ellipse cx="0" cy="0" rx="3.83" ry="4.03" fill="url(#sg23)" transform="matrix(1,0.1365,6.29,-6.545,302.16,348.76)" />
<ellipse cx="0" cy="0" rx="3.53" ry="2.13" fill="url(#sg24)" transform="matrix(1,0.1365,6.29,-6.545,309.51,349.76)" />
</g>
<g clip-path="url(#up2)"><g filter="url(#bl1)">
<path d="M115.3,305 C120.34,313.14 120.34,333.86 115.3,342 C110.26,333.86 110.26,313.14 115.3,305Z" fill="url(#rb)" opacity="0.75"/>
<path d="M131.7,290.7 C140.7,306.32 140.7,346.08 131.7,361.7 C122.7,346.08 122.7,306.32 131.7,290.7Z" fill="url(#bb)" opacity="0.9"/>
<ellipse cx="149" cy="328.4" rx="7.75" ry="48.6" fill="url(#rb)" opacity="1"/>
<ellipse cx="168.8" cy="332.25" rx="7.75" ry="51.25" fill="url(#bb)" opacity="1"/>
</g>
<g filter="url(#bl1)"><ellipse cx="131.7" cy="326" rx="5.5" ry="4.5" fill="#8e8cc6" opacity="0.55"/><path d="M163,316 Q172,318 180.6,332.8 M163,350 Q172,347 180.6,332.8" stroke="#a3a1d3" stroke-width="2.2" fill="none" opacity="0.8"/><path d="M181,332.8 L163,320.5 Q157,333 163,346 Z" fill="url(#wedge)" filter="url(#bl2)"/><ellipse cx="183.5" cy="319.5" rx="5" ry="5" fill="#f3b4b9" opacity="0.55" filter="url(#bl2)"/><ellipse cx="185" cy="345" rx="5" ry="3.5" fill="#f3b4b9" opacity="0.55" filter="url(#bl2)"/><path d="M180.8,332.5 L176.8,324 L182.5,325.5 Z M181,332.8 L188.2,328 L188.2,336.5 Z M180.8,333 L176.2,340.5 L181.8,341.5 Z" fill="#e0202e"/><ellipse cx="184.5" cy="326.5" rx="1.3" ry="1.5" fill="#4543a0"/><ellipse cx="183.8" cy="338.5" rx="1.3" ry="1.5" fill="#4543a0"/></g><ellipse cx="224" cy="340" rx="11" ry="5" fill="#cfcde8" opacity="0.7" filter="url(#bl2)"/><g filter="url(#bl05)"><path d="M235.7,340.6 Q236.76,330.54 229.73,324.21" fill="none" stroke="#d8303c" stroke-width="1.3" opacity="0.85"/><path d="M235.7,340.6 Q236.76,350.66 229.73,356.99" fill="none" stroke="#d8303c" stroke-width="1.3" opacity="0.85"/><path d="M235.7,340.6 Q235.37,331.05 227.97,326.06" fill="none" stroke="#5a58b0" stroke-width="0.8" opacity="0.6"/><path d="M235.7,340.6 Q235.37,350.15 227.97,355.14" fill="none" stroke="#5a58b0" stroke-width="0.8" opacity="0.6"/><path d="M235.7,340.6 Q234.12,331.65 226.49,327.93" fill="none" stroke="#d8303c" stroke-width="1" opacity="0.7"/><path d="M235.7,340.6 Q234.12,349.55 226.49,353.27" fill="none" stroke="#d8303c" stroke-width="1" opacity="0.7"/><path d="M235.7,340.6 Q232.88,332.85 225.48,330.73" fill="none" stroke="#5a58b0" stroke-width="0.7" opacity="0.55"/><path d="M235.7,340.6 Q232.88,348.35 225.48,350.47" fill="none" stroke="#5a58b0" stroke-width="0.7" opacity="0.55"/><path d="M235.7,340.6 Q232.05,334.27 225.26,333.56" fill="none" stroke="#d8303c" stroke-width="0.7" opacity="0.5"/><path d="M235.7,340.6 Q232.05,346.93 225.26,347.64" fill="none" stroke="#d8303c" stroke-width="0.7" opacity="0.5"/><path d="M235.7,340.6 Q231.81,336.28 226.42,336.85" fill="none" stroke="#5a58b0" stroke-width="0.6" opacity="0.45"/><path d="M235.7,340.6 Q231.81,344.92 226.42,344.35" fill="none" stroke="#5a58b0" stroke-width="0.6" opacity="0.45"/></g><ellipse cx="235" cy="340.6" rx="1.6" ry="2.2" fill="#5a3a9a"/>
</g>
<g clip-path="url(#dn3)"><g filter="url(#bl1)">
<ellipse cx="95.3" cy="445.25" rx="4" ry="24.25" fill="url(#bb)" opacity="0.85"/>
<ellipse cx="112" cy="446.7" rx="6.75" ry="30.7" fill="url(#rb)" opacity="0.9"/>
<ellipse cx="131.6" cy="449.5" rx="8" ry="48.5" fill="url(#bb)" opacity="0.95"/>
<path d="M148.8,405 C154.92,426.12 154.92,479.88 148.8,501 C142.68,479.88 142.68,426.12 148.8,405Z" fill="url(#rb)" opacity="0.9"/>
</g>
<g filter="url(#bl1)"><ellipse cx="112" cy="441.5" rx="6" ry="2.5" fill="#ee8f97" opacity="0.35"/><ellipse cx="112" cy="453" rx="6" ry="3" fill="#ee8f97" opacity="0.35"/><ellipse cx="131" cy="440.5" rx="6.5" ry="3" fill="#8583c2" opacity="0.8"/><ellipse cx="131.5" cy="460" rx="6.5" ry="3" fill="#8583c2" opacity="0.8"/><path d="M144,448 Q148,444.5 151.5,449.5 Q155,444.5 159.5,448 Q161,455 152,460.5 Q143,455 144,448Z" fill="#de2530"/><ellipse cx="163.6" cy="455.2" rx="2" ry="2" fill="#3c3b98"/><ellipse cx="163.5" cy="446" rx="1.5" ry="2" fill="#8886c2"/><ellipse cx="163.5" cy="465" rx="1.5" ry="2" fill="#8886c2"/></g><ellipse cx="185" cy="456" rx="13" ry="10" fill="#c9c7e6" opacity="0.6" filter="url(#bl2)"/><g filter="url(#bl05)"><path d="M209,461 Q210.68,445.02 199.53,434.97" fill="none" stroke="#d8303c" stroke-width="1.17" opacity="0.68"/><path d="M209,461 Q210.68,476.98 199.53,487.03" fill="none" stroke="#d8303c" stroke-width="1.17" opacity="0.68"/><path d="M209,461 Q208.47,445.83 196.72,437.9" fill="none" stroke="#5a58b0" stroke-width="0.72" opacity="0.48"/><path d="M209,461 Q208.47,476.17 196.72,484.1" fill="none" stroke="#5a58b0" stroke-width="0.72" opacity="0.48"/><path d="M209,461 Q206.49,446.79 194.38,440.87" fill="none" stroke="#d8303c" stroke-width="0.9" opacity="0.56"/><path d="M209,461 Q206.49,475.21 194.38,481.13" fill="none" stroke="#d8303c" stroke-width="0.9" opacity="0.56"/><path d="M209,461 Q204.52,448.7 192.76,445.32" fill="none" stroke="#5a58b0" stroke-width="0.63" opacity="0.44"/><path d="M209,461 Q204.52,473.3 192.76,476.68" fill="none" stroke="#5a58b0" stroke-width="0.63" opacity="0.44"/><path d="M209,461 Q203.2,450.95 192.41,449.81" fill="none" stroke="#d8303c" stroke-width="0.63" opacity="0.4"/><path d="M209,461 Q203.2,471.05 192.41,472.19" fill="none" stroke="#d8303c" stroke-width="0.63" opacity="0.4"/><path d="M209,461 Q202.83,454.15 194.25,455.04" fill="none" stroke="#5a58b0" stroke-width="0.54" opacity="0.36"/><path d="M209,461 Q202.83,467.85 194.25,466.96" fill="none" stroke="#5a58b0" stroke-width="0.54" opacity="0.36"/></g><ellipse cx="208.7" cy="462" rx="2.2" ry="2.6" fill="#3c3b98"/><ellipse cx="250" cy="466" rx="10" ry="12" fill="#e6c8e0" opacity="0.5" filter="url(#bl2)"/><g filter="url(#bl05)"><path d="M264,469.2 Q265.74,452.6 254.16,442.15" fill="none" stroke="#d8303c" stroke-width="1.17" opacity="0.68"/><path d="M264,469.2 Q265.74,485.8 254.16,496.25" fill="none" stroke="#d8303c" stroke-width="1.17" opacity="0.68"/><path d="M264,469.2 Q263.45,453.44 251.24,445.2" fill="none" stroke="#5a58b0" stroke-width="0.72" opacity="0.48"/><path d="M264,469.2 Q263.45,484.96 251.24,493.2" fill="none" stroke="#5a58b0" stroke-width="0.72" opacity="0.48"/><path d="M264,469.2 Q261.4,454.43 248.81,448.29" fill="none" stroke="#d8303c" stroke-width="0.9" opacity="0.56"/><path d="M264,469.2 Q261.4,483.97 248.81,490.11" fill="none" stroke="#d8303c" stroke-width="0.9" opacity="0.56"/><path d="M264,469.2 Q259.35,456.42 247.13,452.91" fill="none" stroke="#5a58b0" stroke-width="0.63" opacity="0.44"/><path d="M264,469.2 Q259.35,481.98 247.13,485.49" fill="none" stroke="#5a58b0" stroke-width="0.63" opacity="0.44"/><path d="M264,469.2 Q257.97,458.76 246.77,457.58" fill="none" stroke="#d8303c" stroke-width="0.63" opacity="0.4"/><path d="M264,469.2 Q257.97,479.64 246.77,480.82" fill="none" stroke="#d8303c" stroke-width="0.63" opacity="0.4"/><path d="M264,469.2 Q257.59,462.08 248.68,463.01" fill="none" stroke="#5a58b0" stroke-width="0.54" opacity="0.36"/><path d="M264,469.2 Q257.59,476.32 248.68,475.39" fill="none" stroke="#5a58b0" stroke-width="0.54" opacity="0.36"/></g><ellipse cx="262.5" cy="469.2" rx="2" ry="2.5" fill="#7a3a8a"/>
</g>
<g>
<ellipse cx="0" cy="0" rx="3.28" ry="0.5" fill="url(#sg25)" transform="matrix(1,0.1365,6.29,-6.545,280.54,470.58)" />
<ellipse cx="0" cy="0" rx="3.41" ry="1.34" fill="url(#sg26)" transform="matrix(1,0.1365,6.29,-6.545,287.89,471.58)" />
<ellipse cx="0" cy="0" rx="3.49" ry="1.85" fill="url(#sg27)" transform="matrix(1,0.1365,6.29,-6.545,295.24,472.58)" />
<ellipse cx="0" cy="0" rx="3.65" ry="2.86" fill="url(#sg28)" transform="matrix(1,0.1365,6.29,-6.545,302.59,473.59)" />
<ellipse cx="0" cy="0" rx="3.84" ry="4.09" fill="url(#sg29)" transform="matrix(1,0.1365,6.29,-6.545,309.94,474.59)" />
<ellipse cx="0" cy="0" rx="3.9" ry="4.76" fill="url(#sg30)" transform="matrix(1,0.1365,6.29,-6.545,317.29,475.59)" />
<ellipse cx="0" cy="0" rx="3.9" ry="4.87" fill="url(#sg31)" transform="matrix(1,0.1365,6.29,-6.545,324.64,476.6)" />
<ellipse cx="0" cy="0" rx="3.86" ry="4.2" fill="url(#sg32)" transform="matrix(1,0.1365,6.29,-6.545,331.99,477.6)" />
</g>
<g clip-path="url(#up3)"><g filter="url(#bl1)">
<ellipse cx="95.3" cy="445.25" rx="4" ry="24.25" fill="url(#bb)" opacity="0.85"/>
<ellipse cx="112" cy="446.7" rx="6.75" ry="30.7" fill="url(#rb)" opacity="0.9"/>
<ellipse cx="131.6" cy="449.5" rx="8" ry="48.5" fill="url(#bb)" opacity="0.95"/>
<path d="M148.8,405 C154.92,426.12 154.92,479.88 148.8,501 C142.68,479.88 142.68,426.12 148.8,405Z" fill="url(#rb)" opacity="0.9"/>
</g>
<g filter="url(#bl1)"><ellipse cx="112" cy="441.5" rx="6" ry="2.5" fill="#ee8f97" opacity="0.35"/><ellipse cx="112" cy="453" rx="6" ry="3" fill="#ee8f97" opacity="0.35"/><ellipse cx="131" cy="440.5" rx="6.5" ry="3" fill="#8583c2" opacity="0.8"/><ellipse cx="131.5" cy="460" rx="6.5" ry="3" fill="#8583c2" opacity="0.8"/><path d="M144,448 Q148,444.5 151.5,449.5 Q155,444.5 159.5,448 Q161,455 152,460.5 Q143,455 144,448Z" fill="#de2530"/><ellipse cx="163.6" cy="455.2" rx="2" ry="2" fill="#3c3b98"/><ellipse cx="163.5" cy="446" rx="1.5" ry="2" fill="#8886c2"/><ellipse cx="163.5" cy="465" rx="1.5" ry="2" fill="#8886c2"/></g><ellipse cx="185" cy="456" rx="13" ry="10" fill="#c9c7e6" opacity="0.6" filter="url(#bl2)"/><g filter="url(#bl05)"><path d="M209,461 Q210.68,445.02 199.53,434.97" fill="none" stroke="#d8303c" stroke-width="1.17" opacity="0.68"/><path d="M209,461 Q210.68,476.98 199.53,487.03" fill="none" stroke="#d8303c" stroke-width="1.17" opacity="0.68"/><path d="M209,461 Q208.47,445.83 196.72,437.9" fill="none" stroke="#5a58b0" stroke-width="0.72" opacity="0.48"/><path d="M209,461 Q208.47,476.17 196.72,484.1" fill="none" stroke="#5a58b0" stroke-width="0.72" opacity="0.48"/><path d="M209,461 Q206.49,446.79 194.38,440.87" fill="none" stroke="#d8303c" stroke-width="0.9" opacity="0.56"/><path d="M209,461 Q206.49,475.21 194.38,481.13" fill="none" stroke="#d8303c" stroke-width="0.9" opacity="0.56"/><path d="M209,461 Q204.52,448.7 192.76,445.32" fill="none" stroke="#5a58b0" stroke-width="0.63" opacity="0.44"/><path d="M209,461 Q204.52,473.3 192.76,476.68" fill="none" stroke="#5a58b0" stroke-width="0.63" opacity="0.44"/><path d="M209,461 Q203.2,450.95 192.41,449.81" fill="none" stroke="#d8303c" stroke-width="0.63" opacity="0.4"/><path d="M209,461 Q203.2,471.05 192.41,472.19" fill="none" stroke="#d8303c" stroke-width="0.63" opacity="0.4"/><path d="M209,461 Q202.83,454.15 194.25,455.04" fill="none" stroke="#5a58b0" stroke-width="0.54" opacity="0.36"/><path d="M209,461 Q202.83,467.85 194.25,466.96" fill="none" stroke="#5a58b0" stroke-width="0.54" opacity="0.36"/></g><ellipse cx="208.7" cy="462" rx="2.2" ry="2.6" fill="#3c3b98"/><ellipse cx="250" cy="466" rx="10" ry="12" fill="#e6c8e0" opacity="0.5" filter="url(#bl2)"/><g filter="url(#bl05)"><path d="M264,469.2 Q265.74,452.6 254.16,442.15" fill="none" stroke="#d8303c" stroke-width="1.17" opacity="0.68"/><path d="M264,469.2 Q265.74,485.8 254.16,496.25" fill="none" stroke="#d8303c" stroke-width="1.17" opacity="0.68"/><path d="M264,469.2 Q263.45,453.44 251.24,445.2" fill="none" stroke="#5a58b0" stroke-width="0.72" opacity="0.48"/><path d="M264,469.2 Q263.45,484.96 251.24,493.2" fill="none" stroke="#5a58b0" stroke-width="0.72" opacity="0.48"/><path d="M264,469.2 Q261.4,454.43 248.81,448.29" fill="none" stroke="#d8303c" stroke-width="0.9" opacity="0.56"/><path d="M264,469.2 Q261.4,483.97 248.81,490.11" fill="none" stroke="#d8303c" stroke-width="0.9" opacity="0.56"/><path d="M264,469.2 Q259.35,456.42 247.13,452.91" fill="none" stroke="#5a58b0" stroke-width="0.63" opacity="0.44"/><path d="M264,469.2 Q259.35,481.98 247.13,485.49" fill="none" stroke="#5a58b0" stroke-width="0.63" opacity="0.44"/><path d="M264,469.2 Q257.97,458.76 246.77,457.58" fill="none" stroke="#d8303c" stroke-width="0.63" opacity="0.4"/><path d="M264,469.2 Q257.97,479.64 246.77,480.82" fill="none" stroke="#d8303c" stroke-width="0.63" opacity="0.4"/><path d="M264,469.2 Q257.59,462.08 248.68,463.01" fill="none" stroke="#5a58b0" stroke-width="0.54" opacity="0.36"/><path d="M264,469.2 Q257.59,476.32 248.68,475.39" fill="none" stroke="#5a58b0" stroke-width="0.54" opacity="0.36"/></g><ellipse cx="262.5" cy="469.2" rx="2" ry="2.5" fill="#7a3a8a"/>
</g>
<g id="front">
<line x1="55.05" y1="104.72" x2="86.5" y2="72" class="ax"/>
<line x1="55.05" y1="104.72" x2="303" y2="138.57" class="ax"/>
<line x1="55.05" y1="104.72" x2="57.65" y2="105.08" class="tk"/>
<line x1="58.2" y1="101.45" x2="60.8" y2="101.81" class="tk"/>
<line x1="61.34" y1="98.18" x2="65.34" y2="98.73" class="tk"/>
<line x1="64.48" y1="94.91" x2="67.08" y2="95.26" class="tk"/>
<line x1="67.63" y1="91.63" x2="70.23" y2="91.99" class="tk"/>
<line x1="70.78" y1="88.36" x2="73.38" y2="88.72" class="tk"/>
<line x1="73.92" y1="85.09" x2="77.92" y2="85.64" class="tk"/>
<line x1="77.06" y1="81.82" x2="79.66" y2="82.17" class="tk"/>
<line x1="80.21" y1="78.55" x2="82.81" y2="78.9" class="tk"/>
<line x1="83.36" y1="75.27" x2="85.95" y2="75.63" class="tk"/>
<line x1="86.5" y1="72" x2="90.5" y2="72.55" class="tk"/>
<line x1="64.05" y1="105.95" x2="65.62" y2="104.32" class="tk"/>
<line x1="79.05" y1="108" x2="80.62" y2="106.36" class="tk"/>
<line x1="94.05" y1="110.05" x2="95.62" y2="108.41" class="tk"/>
<line x1="109.05" y1="112.1" x2="110.62" y2="110.46" class="tk"/>
<line x1="124.05" y1="114.14" x2="125.62" y2="112.51" class="tk"/>
<line x1="139.05" y1="116.19" x2="140.62" y2="114.55" class="tk"/>
<line x1="154.05" y1="118.24" x2="155.62" y2="116.6" class="tk"/>
<line x1="169.05" y1="120.29" x2="170.62" y2="118.65" class="tk"/>
<line x1="184.05" y1="122.33" x2="185.62" y2="120.7" class="tk"/>
<line x1="199.05" y1="124.38" x2="200.62" y2="122.74" class="tk"/>
<line x1="214.05" y1="126.43" x2="215.62" y2="124.79" class="tk"/>
<line x1="229.05" y1="128.48" x2="230.62" y2="126.84" class="tk"/>
<line x1="244.05" y1="130.52" x2="245.62" y2="128.89" class="tk"/>
<line x1="259.05" y1="132.57" x2="260.62" y2="130.93" class="tk"/>
<line x1="274.05" y1="134.62" x2="275.62" y2="132.98" class="tk"/>
<line x1="289.05" y1="136.67" x2="290.62" y2="135.03" class="tk"/>
<line x1="55.05" y1="229.12" x2="86.5" y2="196.4" class="ax"/>
<line x1="55.05" y1="229.12" x2="303" y2="262.97" class="ax"/>
<line x1="55.05" y1="229.12" x2="57.65" y2="229.48" class="tk"/>
<line x1="58.2" y1="225.85" x2="60.8" y2="226.21" class="tk"/>
<line x1="61.34" y1="222.58" x2="65.34" y2="223.13" class="tk"/>
<line x1="64.48" y1="219.31" x2="67.08" y2="219.66" class="tk"/>
<line x1="67.63" y1="216.03" x2="70.23" y2="216.39" class="tk"/>
<line x1="70.78" y1="212.76" x2="73.38" y2="213.12" class="tk"/>
<line x1="73.92" y1="209.49" x2="77.92" y2="210.04" class="tk"/>
<line x1="77.06" y1="206.22" x2="79.66" y2="206.57" class="tk"/>
<line x1="80.21" y1="202.94" x2="82.81" y2="203.3" class="tk"/>
<line x1="83.36" y1="199.67" x2="85.95" y2="200.03" class="tk"/>
<line x1="86.5" y1="196.4" x2="90.5" y2="196.95" class="tk"/>
<line x1="64.05" y1="230.35" x2="65.62" y2="228.72" class="tk"/>
<line x1="79.05" y1="232.4" x2="80.62" y2="230.76" class="tk"/>
<line x1="94.05" y1="234.45" x2="95.62" y2="232.81" class="tk"/>
<line x1="109.05" y1="236.5" x2="110.62" y2="234.86" class="tk"/>
<line x1="124.05" y1="238.54" x2="125.62" y2="236.91" class="tk"/>
<line x1="139.05" y1="240.59" x2="140.62" y2="238.95" class="tk"/>
<line x1="154.05" y1="242.64" x2="155.62" y2="241" class="tk"/>
<line x1="169.05" y1="244.69" x2="170.62" y2="243.05" class="tk"/>
<line x1="184.05" y1="246.73" x2="185.62" y2="245.1" class="tk"/>
<line x1="199.05" y1="248.78" x2="200.62" y2="247.14" class="tk"/>
<line x1="214.05" y1="250.83" x2="215.62" y2="249.19" class="tk"/>
<line x1="229.05" y1="252.88" x2="230.62" y2="251.24" class="tk"/>
<line x1="244.05" y1="254.92" x2="245.62" y2="253.29" class="tk"/>
<line x1="259.05" y1="256.97" x2="260.62" y2="255.33" class="tk"/>
<line x1="274.05" y1="259.02" x2="275.62" y2="257.38" class="tk"/>
<line x1="289.05" y1="261.07" x2="290.62" y2="259.43" class="tk"/>
<line x1="55.05" y1="353.52" x2="86.5" y2="320.8" class="ax"/>
<line x1="55.05" y1="353.52" x2="303" y2="387.37" class="ax"/>
<line x1="55.05" y1="353.52" x2="57.65" y2="353.88" class="tk"/>
<line x1="58.2" y1="350.25" x2="60.8" y2="350.61" class="tk"/>
<line x1="61.34" y1="346.98" x2="65.34" y2="347.53" class="tk"/>
<line x1="64.48" y1="343.71" x2="67.08" y2="344.06" class="tk"/>
<line x1="67.63" y1="340.44" x2="70.23" y2="340.79" class="tk"/>
<line x1="70.78" y1="337.16" x2="73.38" y2="337.52" class="tk"/>
<line x1="73.92" y1="333.89" x2="77.92" y2="334.44" class="tk"/>
<line x1="77.06" y1="330.62" x2="79.66" y2="330.97" class="tk"/>
<line x1="80.21" y1="327.35" x2="82.81" y2="327.7" class="tk"/>
<line x1="83.36" y1="324.07" x2="85.95" y2="324.43" class="tk"/>
<line x1="86.5" y1="320.8" x2="90.5" y2="321.35" class="tk"/>
<line x1="64.05" y1="354.75" x2="65.62" y2="353.12" class="tk"/>
<line x1="79.05" y1="356.8" x2="80.62" y2="355.16" class="tk"/>
<line x1="94.05" y1="358.85" x2="95.62" y2="357.21" class="tk"/>
<line x1="109.05" y1="360.9" x2="110.62" y2="359.26" class="tk"/>
<line x1="124.05" y1="362.94" x2="125.62" y2="361.31" class="tk"/>
<line x1="139.05" y1="364.99" x2="140.62" y2="363.35" class="tk"/>
<line x1="154.05" y1="367.04" x2="155.62" y2="365.4" class="tk"/>
<line x1="169.05" y1="369.09" x2="170.62" y2="367.45" class="tk"/>
<line x1="184.05" y1="371.13" x2="185.62" y2="369.5" class="tk"/>
<line x1="199.05" y1="373.18" x2="200.62" y2="371.54" class="tk"/>
<line x1="214.05" y1="375.23" x2="215.62" y2="373.59" class="tk"/>
<line x1="229.05" y1="377.28" x2="230.62" y2="375.64" class="tk"/>
<line x1="244.05" y1="379.32" x2="245.62" y2="377.69" class="tk"/>
<line x1="259.05" y1="381.37" x2="260.62" y2="379.73" class="tk"/>
<line x1="274.05" y1="383.42" x2="275.62" y2="381.78" class="tk"/>
<line x1="289.05" y1="385.47" x2="290.62" y2="383.83" class="tk"/>
<line x1="55.05" y1="477.93" x2="86.5" y2="445.2" class="ax"/>
<line x1="55.05" y1="477.93" x2="303" y2="511.77" class="ax"/>
<line x1="55.05" y1="477.93" x2="57.65" y2="478.28" class="tk"/>
<line x1="58.2" y1="474.65" x2="60.8" y2="475.01" class="tk"/>
<line x1="61.34" y1="471.38" x2="65.34" y2="471.93" class="tk"/>
<line x1="64.48" y1="468.11" x2="67.08" y2="468.46" class="tk"/>
<line x1="67.63" y1="464.84" x2="70.23" y2="465.19" class="tk"/>
<line x1="70.78" y1="461.56" x2="73.38" y2="461.92" class="tk"/>
<line x1="73.92" y1="458.29" x2="77.92" y2="458.84" class="tk"/>
<line x1="77.06" y1="455.02" x2="79.66" y2="455.37" class="tk"/>
<line x1="80.21" y1="451.75" x2="82.81" y2="452.1" class="tk"/>
<line x1="83.36" y1="448.47" x2="85.95" y2="448.83" class="tk"/>
<line x1="86.5" y1="445.2" x2="90.5" y2="445.75" class="tk"/>
<line x1="64.05" y1="479.15" x2="65.62" y2="477.52" class="tk"/>
<line x1="79.05" y1="481.2" x2="80.62" y2="479.56" class="tk"/>
<line x1="94.05" y1="483.25" x2="95.62" y2="481.61" class="tk"/>
<line x1="109.05" y1="485.3" x2="110.62" y2="483.66" class="tk"/>
<line x1="124.05" y1="487.34" x2="125.62" y2="485.71" class="tk"/>
<line x1="139.05" y1="489.39" x2="140.62" y2="487.75" class="tk"/>
<line x1="154.05" y1="491.44" x2="155.62" y2="489.8" class="tk"/>
<line x1="169.05" y1="493.49" x2="170.62" y2="491.85" class="tk"/>
<line x1="184.05" y1="495.53" x2="185.62" y2="493.9" class="tk"/>
<line x1="199.05" y1="497.58" x2="200.62" y2="495.94" class="tk"/>
<line x1="214.05" y1="499.63" x2="215.62" y2="497.99" class="tk"/>
<line x1="229.05" y1="501.68" x2="230.62" y2="500.04" class="tk"/>
<line x1="244.05" y1="503.72" x2="245.62" y2="502.09" class="tk"/>
<line x1="259.05" y1="505.77" x2="260.62" y2="504.13" class="tk"/>
<line x1="274.05" y1="507.82" x2="275.62" y2="506.18" class="tk"/>
<line x1="289.05" y1="509.87" x2="290.62" y2="508.23" class="tk"/>
<line x1="335.5" y1="43.2" x2="335.5" y2="540.8" class="zax"/>
<line x1="331.5" y1="43.2" x2="335.5" y2="43.2" class="ztk"/>
<line x1="331.5" y1="49.42" x2="335.5" y2="49.42" class="ztk"/>
<line x1="331.5" y1="55.64" x2="335.5" y2="55.64" class="ztk"/>
<line x1="331.5" y1="61.86" x2="335.5" y2="61.86" class="ztk"/>
<line x1="331.5" y1="68.08" x2="335.5" y2="68.08" class="ztk"/>
<line x1="331.5" y1="74.3" x2="335.5" y2="74.3" class="ztk"/>
<line x1="331.5" y1="80.52" x2="335.5" y2="80.52" class="ztk"/>
<line x1="331.5" y1="86.74" x2="335.5" y2="86.74" class="ztk"/>
<line x1="331.5" y1="92.96" x2="335.5" y2="92.96" class="ztk"/>
<line x1="331.5" y1="99.18" x2="335.5" y2="99.18" class="ztk"/>
<line x1="331.5" y1="105.4" x2="335.5" y2="105.4" class="ztk"/>
<line x1="331.5" y1="111.62" x2="335.5" y2="111.62" class="ztk"/>
<line x1="331.5" y1="117.84" x2="335.5" y2="117.84" class="ztk"/>
<line x1="331.5" y1="124.06" x2="335.5" y2="124.06" class="ztk"/>
<line x1="331.5" y1="130.28" x2="335.5" y2="130.28" class="ztk"/>
<line x1="331.5" y1="136.5" x2="335.5" y2="136.5" class="ztk"/>
<line x1="331.5" y1="142.72" x2="335.5" y2="142.72" class="ztk"/>
<line x1="331.5" y1="148.94" x2="335.5" y2="148.94" class="ztk"/>
<line x1="331.5" y1="155.16" x2="335.5" y2="155.16" class="ztk"/>
<line x1="331.5" y1="161.38" x2="335.5" y2="161.38" class="ztk"/>
<line x1="331.5" y1="167.6" x2="335.5" y2="167.6" class="ztk"/>
<line x1="331.5" y1="167.6" x2="335.5" y2="167.6" class="ztk"/>
<line x1="331.5" y1="173.82" x2="335.5" y2="173.82" class="ztk"/>
<line x1="331.5" y1="180.04" x2="335.5" y2="180.04" class="ztk"/>
<line x1="331.5" y1="186.26" x2="335.5" y2="186.26" class="ztk"/>
<line x1="331.5" y1="192.48" x2="335.5" y2="192.48" class="ztk"/>
<line x1="331.5" y1="198.7" x2="335.5" y2="198.7" class="ztk"/>
<line x1="331.5" y1="204.92" x2="335.5" y2="204.92" class="ztk"/>
<line x1="331.5" y1="211.14" x2="335.5" y2="211.14" class="ztk"/>
<line x1="331.5" y1="217.36" x2="335.5" y2="217.36" class="ztk"/>
<line x1="331.5" y1="223.58" x2="335.5" y2="223.58" class="ztk"/>
<line x1="331.5" y1="229.8" x2="335.5" y2="229.8" class="ztk"/>
<line x1="331.5" y1="236.02" x2="335.5" y2="236.02" class="ztk"/>
<line x1="331.5" y1="242.24" x2="335.5" y2="242.24" class="ztk"/>
<line x1="331.5" y1="248.46" x2="335.5" y2="248.46" class="ztk"/>
<line x1="331.5" y1="254.68" x2="335.5" y2="254.68" class="ztk"/>
<line x1="331.5" y1="260.9" x2="335.5" y2="260.9" class="ztk"/>
<line x1="331.5" y1="267.12" x2="335.5" y2="267.12" class="ztk"/>
<line x1="331.5" y1="273.34" x2="335.5" y2="273.34" class="ztk"/>
<line x1="331.5" y1="279.56" x2="335.5" y2="279.56" class="ztk"/>
<line x1="331.5" y1="285.78" x2="335.5" y2="285.78" class="ztk"/>
<line x1="331.5" y1="292" x2="335.5" y2="292" class="ztk"/>
<line x1="331.5" y1="292" x2="335.5" y2="292" class="ztk"/>
<line x1="331.5" y1="298.22" x2="335.5" y2="298.22" class="ztk"/>
<line x1="331.5" y1="304.44" x2="335.5" y2="304.44" class="ztk"/>
<line x1="331.5" y1="310.66" x2="335.5" y2="310.66" class="ztk"/>
<line x1="331.5" y1="316.88" x2="335.5" y2="316.88" class="ztk"/>
<line x1="331.5" y1="323.1" x2="335.5" y2="323.1" class="ztk"/>
<line x1="331.5" y1="329.32" x2="335.5" y2="329.32" class="ztk"/>
<line x1="331.5" y1="335.54" x2="335.5" y2="335.54" class="ztk"/>
<line x1="331.5" y1="341.76" x2="335.5" y2="341.76" class="ztk"/>
<line x1="331.5" y1="347.98" x2="335.5" y2="347.98" class="ztk"/>
<line x1="331.5" y1="354.2" x2="335.5" y2="354.2" class="ztk"/>
<line x1="331.5" y1="360.42" x2="335.5" y2="360.42" class="ztk"/>
<line x1="331.5" y1="366.64" x2="335.5" y2="366.64" class="ztk"/>
<line x1="331.5" y1="372.86" x2="335.5" y2="372.86" class="ztk"/>
<line x1="331.5" y1="379.08" x2="335.5" y2="379.08" class="ztk"/>
<line x1="331.5" y1="385.3" x2="335.5" y2="385.3" class="ztk"/>
<line x1="331.5" y1="391.52" x2="335.5" y2="391.52" class="ztk"/>
<line x1="331.5" y1="397.74" x2="335.5" y2="397.74" class="ztk"/>
<line x1="331.5" y1="403.96" x2="335.5" y2="403.96" class="ztk"/>
<line x1="331.5" y1="410.18" x2="335.5" y2="410.18" class="ztk"/>
<line x1="331.5" y1="416.4" x2="335.5" y2="416.4" class="ztk"/>
<line x1="331.5" y1="416.4" x2="335.5" y2="416.4" class="ztk"/>
<line x1="331.5" y1="422.62" x2="335.5" y2="422.62" class="ztk"/>
<line x1="331.5" y1="428.84" x2="335.5" y2="428.84" class="ztk"/>
<line x1="331.5" y1="435.06" x2="335.5" y2="435.06" class="ztk"/>
<line x1="331.5" y1="441.28" x2="335.5" y2="441.28" class="ztk"/>
<line x1="331.5" y1="447.5" x2="335.5" y2="447.5" class="ztk"/>
<line x1="331.5" y1="453.72" x2="335.5" y2="453.72" class="ztk"/>
<line x1="331.5" y1="459.94" x2="335.5" y2="459.94" class="ztk"/>
<line x1="331.5" y1="466.16" x2="335.5" y2="466.16" class="ztk"/>
<line x1="331.5" y1="472.38" x2="335.5" y2="472.38" class="ztk"/>
<line x1="331.5" y1="478.6" x2="335.5" y2="478.6" class="ztk"/>
<line x1="331.5" y1="484.82" x2="335.5" y2="484.82" class="ztk"/>
<line x1="331.5" y1="491.04" x2="335.5" y2="491.04" class="ztk"/>
<line x1="331.5" y1="497.26" x2="335.5" y2="497.26" class="ztk"/>
<line x1="331.5" y1="503.48" x2="335.5" y2="503.48" class="ztk"/>
<line x1="331.5" y1="509.7" x2="335.5" y2="509.7" class="ztk"/>
<line x1="331.5" y1="515.92" x2="335.5" y2="515.92" class="ztk"/>
<line x1="331.5" y1="522.14" x2="335.5" y2="522.14" class="ztk"/>
<line x1="331.5" y1="528.36" x2="335.5" y2="528.36" class="ztk"/>
<line x1="331.5" y1="534.58" x2="335.5" y2="534.58" class="ztk"/>
<line x1="331.5" y1="540.8" x2="335.5" y2="540.8" class="ztk"/>
</g>
<g id="labels">
<text class="lab" font-size="10" text-anchor="middle" transform="matrix(2.48,0.33,-1.23,0.86,92.6,43.3)" y="3.6">4</text>
<text class="lab" font-size="10" text-anchor="middle" transform="matrix(2.48,0.33,-1.23,0.86,79.5,56.7)" y="3.6">2</text>
<text class="lab" font-size="10" text-anchor="middle" transform="matrix(2.48,0.33,-1.64,0.6,67.2,69)" y="3.6">0</text>
<text class="lab" font-size="10" text-anchor="middle" transform="matrix(3.37,0.45,-1.23,0.86,32.3,80)" y="3.6">−</text>
<text class="lab" font-size="10" text-anchor="middle" transform="matrix(2.48,0.33,-1.23,0.86,53.5,82.5)" y="3.6">2</text>
<text class="lab" font-size="10" text-anchor="middle" transform="matrix(3.37,0.45,-1.23,0.86,19.7,93.3)" y="3.6">−</text>
<text class="lab" font-size="10" text-anchor="middle" transform="matrix(2.48,0.33,-1.23,0.86,41.6,95.9)" y="3.6">4</text>
<text class="lab" font-size="10" text-anchor="middle" transform="matrix(2.48,0.33,-1.23,0.86,73.7,117.5)" y="3.6">5</text>
<text class="lab" font-size="10" text-anchor="middle" transform="matrix(1.68,0.22,-1.23,0.86,139.5,126.2)" y="3.6">1</text>
<text class="lab" font-size="10" text-anchor="middle" transform="matrix(2.48,0.33,-1.64,0.6,156.4,129.1)" y="3.6">0</text>
<text class="lab" font-size="10" text-anchor="middle" transform="matrix(1.68,0.22,-1.23,0.86,211.6,135.3)" y="3.6">1</text>
<text class="lab" font-size="10" text-anchor="middle" transform="matrix(2.48,0.33,-1.23,0.86,230.3,137.6)" y="3.6">5</text>
<text class="lab" font-size="12" text-anchor="middle" transform="matrix(2.4,0.32,0,1.05,353,55.5)" y="4.32">4</text>
<text class="lab" font-size="12" text-anchor="middle" transform="matrix(2.4,0.32,0,1.05,353,79.5)" y="4.32">2</text>
<text class="lab" font-size="12" text-anchor="middle" transform="matrix(2.4,0.32,0,1.05,352.8,103.8)" y="4.32">0</text>
<text class="lab" font-size="12" text-anchor="middle" transform="matrix(3,0.41,0,1.05,355,130)" y="4.32">−</text>
<text class="lab" font-size="12" text-anchor="middle" transform="matrix(2.4,0.32,0,1.05,376.8,132.1)" y="4.32">2</text>
<text class="lab" font-size="12" text-anchor="middle" transform="matrix(3,0.41,0,1.05,355,154)" y="4.32">−</text>
<text class="lab" font-size="12" text-anchor="middle" transform="matrix(2.4,0.32,0,1.05,377,157)" y="4.32">4</text>
<text class="lab" font-size="10" text-anchor="middle" transform="matrix(2.48,0.33,-1.23,0.86,92.6,167.7)" y="3.6">4</text>
<text class="lab" font-size="10" text-anchor="middle" transform="matrix(2.48,0.33,-1.23,0.86,79.5,181.1)" y="3.6">2</text>
<text class="lab" font-size="10" text-anchor="middle" transform="matrix(2.48,0.33,-1.64,0.6,67.2,193.4)" y="3.6">0</text>
<text class="lab" font-size="10" text-anchor="middle" transform="matrix(3.37,0.45,-1.23,0.86,32.3,204.4)" y="3.6">−</text>
<text class="lab" font-size="10" text-anchor="middle" transform="matrix(2.48,0.33,-1.23,0.86,53.5,206.9)" y="3.6">2</text>
<text class="lab" font-size="10" text-anchor="middle" transform="matrix(3.37,0.45,-1.23,0.86,19.7,217.7)" y="3.6">−</text>
<text class="lab" font-size="10" text-anchor="middle" transform="matrix(2.48,0.33,-1.23,0.86,41.6,220.3)" y="3.6">4</text>
<text class="lab" font-size="10" text-anchor="middle" transform="matrix(2.48,0.33,-1.23,0.86,73.7,241.9)" y="3.6">5</text>
<text class="lab" font-size="10" text-anchor="middle" transform="matrix(1.68,0.22,-1.23,0.86,139.5,250.6)" y="3.6">1</text>
<text class="lab" font-size="10" text-anchor="middle" transform="matrix(2.48,0.33,-1.64,0.6,156.4,253.5)" y="3.6">0</text>
<text class="lab" font-size="10" text-anchor="middle" transform="matrix(1.68,0.22,-1.23,0.86,211.6,259.7)" y="3.6">1</text>
<text class="lab" font-size="10" text-anchor="middle" transform="matrix(2.48,0.33,-1.23,0.86,230.3,262)" y="3.6">5</text>
<text class="lab" font-size="12" text-anchor="middle" transform="matrix(2.4,0.32,0,1.05,353,179.9)" y="4.32">4</text>
<text class="lab" font-size="12" text-anchor="middle" transform="matrix(2.4,0.32,0,1.05,353,203.9)" y="4.32">2</text>
<text class="lab" font-size="12" text-anchor="middle" transform="matrix(2.4,0.32,0,1.05,352.8,228.2)" y="4.32">0</text>
<text class="lab" font-size="12" text-anchor="middle" transform="matrix(3,0.41,0,1.05,355,254.4)" y="4.32">−</text>
<text class="lab" font-size="12" text-anchor="middle" transform="matrix(2.4,0.32,0,1.05,376.8,256.5)" y="4.32">2</text>
<text class="lab" font-size="12" text-anchor="middle" transform="matrix(3,0.41,0,1.05,355,278.4)" y="4.32">−</text>
<text class="lab" font-size="12" text-anchor="middle" transform="matrix(2.4,0.32,0,1.05,377,281.4)" y="4.32">4</text>
<text class="lab" font-size="10" text-anchor="middle" transform="matrix(2.48,0.33,-1.23,0.86,92.6,292.1)" y="3.6">4</text>
<text class="lab" font-size="10" text-anchor="middle" transform="matrix(2.48,0.33,-1.23,0.86,79.5,305.5)" y="3.6">2</text>
<text class="lab" font-size="10" text-anchor="middle" transform="matrix(2.48,0.33,-1.64,0.6,67.2,317.8)" y="3.6">0</text>
<text class="lab" font-size="10" text-anchor="middle" transform="matrix(3.37,0.45,-1.23,0.86,32.3,328.8)" y="3.6">−</text>
<text class="lab" font-size="10" text-anchor="middle" transform="matrix(2.48,0.33,-1.23,0.86,53.5,331.3)" y="3.6">2</text>
<text class="lab" font-size="10" text-anchor="middle" transform="matrix(3.37,0.45,-1.23,0.86,19.7,342.1)" y="3.6">−</text>
<text class="lab" font-size="10" text-anchor="middle" transform="matrix(2.48,0.33,-1.23,0.86,41.6,344.7)" y="3.6">4</text>
<text class="lab" font-size="10" text-anchor="middle" transform="matrix(2.48,0.33,-1.23,0.86,73.7,366.3)" y="3.6">5</text>
<text class="lab" font-size="10" text-anchor="middle" transform="matrix(1.68,0.22,-1.23,0.86,139.5,375)" y="3.6">1</text>
<text class="lab" font-size="10" text-anchor="middle" transform="matrix(2.48,0.33,-1.64,0.6,156.4,377.9)" y="3.6">0</text>
<text class="lab" font-size="10" text-anchor="middle" transform="matrix(1.68,0.22,-1.23,0.86,211.6,384.1)" y="3.6">1</text>
<text class="lab" font-size="10" text-anchor="middle" transform="matrix(2.48,0.33,-1.23,0.86,230.3,386.4)" y="3.6">5</text>
<text class="lab" font-size="12" text-anchor="middle" transform="matrix(2.4,0.32,0,1.05,353,304.3)" y="4.32">4</text>
<text class="lab" font-size="12" text-anchor="middle" transform="matrix(2.4,0.32,0,1.05,353,328.3)" y="4.32">2</text>
<text class="lab" font-size="12" text-anchor="middle" transform="matrix(2.4,0.32,0,1.05,352.8,352.6)" y="4.32">0</text>
<text class="lab" font-size="12" text-anchor="middle" transform="matrix(3,0.41,0,1.05,355,378.8)" y="4.32">−</text>
<text class="lab" font-size="12" text-anchor="middle" transform="matrix(2.4,0.32,0,1.05,376.8,380.9)" y="4.32">2</text>
<text class="lab" font-size="12" text-anchor="middle" transform="matrix(3,0.41,0,1.05,355,402.8)" y="4.32">−</text>
<text class="lab" font-size="12" text-anchor="middle" transform="matrix(2.4,0.32,0,1.05,377,405.8)" y="4.32">4</text>
<text class="lab" font-size="10" text-anchor="middle" transform="matrix(2.48,0.33,-1.23,0.86,92.6,416.5)" y="3.6">4</text>
<text class="lab" font-size="10" text-anchor="middle" transform="matrix(2.48,0.33,-1.23,0.86,79.5,429.9)" y="3.6">2</text>
<text class="lab" font-size="10" text-anchor="middle" transform="matrix(2.48,0.33,-1.64,0.6,67.2,442.2)" y="3.6">0</text>
<text class="lab" font-size="10" text-anchor="middle" transform="matrix(3.37,0.45,-1.23,0.86,32.3,453.2)" y="3.6">−</text>
<text class="lab" font-size="10" text-anchor="middle" transform="matrix(2.48,0.33,-1.23,0.86,53.5,455.7)" y="3.6">2</text>
<text class="lab" font-size="10" text-anchor="middle" transform="matrix(3.37,0.45,-1.23,0.86,19.7,466.5)" y="3.6">−</text>
<text class="lab" font-size="10" text-anchor="middle" transform="matrix(2.48,0.33,-1.23,0.86,41.6,469.1)" y="3.6">4</text>
<text class="lab" font-size="10" text-anchor="middle" transform="matrix(2.48,0.33,-1.23,0.86,73.7,490.7)" y="3.6">5</text>
<text class="lab" font-size="10" text-anchor="middle" transform="matrix(1.68,0.22,-1.23,0.86,139.5,499.4)" y="3.6">1</text>
<text class="lab" font-size="10" text-anchor="middle" transform="matrix(2.48,0.33,-1.64,0.6,156.4,502.3)" y="3.6">0</text>
<text class="lab" font-size="10" text-anchor="middle" transform="matrix(1.68,0.22,-1.23,0.86,211.6,508.5)" y="3.6">1</text>
<text class="lab" font-size="10" text-anchor="middle" transform="matrix(2.48,0.33,-1.23,0.86,230.3,510.8)" y="3.6">5</text>
<text class="lab" font-size="12" text-anchor="middle" transform="matrix(2.4,0.32,0,1.05,353,428.7)" y="4.32">4</text>
<text class="lab" font-size="12" text-anchor="middle" transform="matrix(2.4,0.32,0,1.05,353,452.7)" y="4.32">2</text>
<text class="lab" font-size="12" text-anchor="middle" transform="matrix(2.4,0.32,0,1.05,352.8,477)" y="4.32">0</text>
<text class="lab" font-size="12" text-anchor="middle" transform="matrix(3,0.41,0,1.05,355,503.2)" y="4.32">−</text>
<text class="lab" font-size="12" text-anchor="middle" transform="matrix(2.4,0.32,0,1.05,376.8,505.3)" y="4.32">2</text>
<text class="lab" font-size="12" text-anchor="middle" transform="matrix(3,0.41,0,1.05,355,527.2)" y="4.32">−</text>
<text class="lab" font-size="12" text-anchor="middle" transform="matrix(2.4,0.32,0,1.05,377,530.2)" y="4.32">4</text>
<text class="axl" x="34" y="62" font-size="18">y/λ</text>
<text class="axl" x="172.5" y="142.5" font-size="18">x/λ</text>
<text class="axl" font-size="19" transform="translate(365.5,111) scale(1.1,1)">z/λ</text>
</g>
<polygon fill="#e2262e" points="108.4,74.6 128.3,58 128.5,68.2 150.7,71.1 150.7,90 128.9,86.9 128.5,97"/>
<polygon fill="#12a04a" points="265.6,87.7 287.6,90.3 296.3,82.7 300.9,101 265.6,113.6 271.6,106.3 251,102.3"/>
<text class="ann" font-size="19" transform="translate(118.5,52) rotate(7)">source</text>
<text class="ann" font-size="19.5" transform="translate(269.5,75.5) rotate(6.5)">driver</text>
<rect x="395.5" y="74" width="18.5" height="181.5" fill="url(#gz)"/>
<rect x="395.5" y="351.6" width="18.5" height="181.4" fill="url(#gy)"/>
<line x1="414" y1="74" x2="414" y2="255.5" class="cbax"/>
<line x1="414" y1="74" x2="416.8" y2="74" class="cbt"/>
<line x1="414" y1="80.05" x2="415.6" y2="80.05" class="cbt"/>
<line x1="414" y1="86.1" x2="415.6" y2="86.1" class="cbt"/>
<line x1="414" y1="92.15" x2="415.6" y2="92.15" class="cbt"/>
<line x1="414" y1="98.2" x2="415.6" y2="98.2" class="cbt"/>
<line x1="414" y1="104.25" x2="416.8" y2="104.25" class="cbt"/>
<line x1="414" y1="110.3" x2="415.6" y2="110.3" class="cbt"/>
<line x1="414" y1="116.35" x2="415.6" y2="116.35" class="cbt"/>
<line x1="414" y1="122.4" x2="415.6" y2="122.4" class="cbt"/>
<line x1="414" y1="128.45" x2="415.6" y2="128.45" class="cbt"/>
<line x1="414" y1="134.5" x2="416.8" y2="134.5" class="cbt"/>
<line x1="414" y1="140.55" x2="415.6" y2="140.55" class="cbt"/>
<line x1="414" y1="146.6" x2="415.6" y2="146.6" class="cbt"/>
<line x1="414" y1="152.65" x2="415.6" y2="152.65" class="cbt"/>
<line x1="414" y1="158.7" x2="415.6" y2="158.7" class="cbt"/>
<line x1="414" y1="164.75" x2="416.8" y2="164.75" class="cbt"/>
<line x1="414" y1="170.8" x2="415.6" y2="170.8" class="cbt"/>
<line x1="414" y1="176.85" x2="415.6" y2="176.85" class="cbt"/>
<line x1="414" y1="182.9" x2="415.6" y2="182.9" class="cbt"/>
<line x1="414" y1="188.95" x2="415.6" y2="188.95" class="cbt"/>
<line x1="414" y1="195" x2="416.8" y2="195" class="cbt"/>
<line x1="414" y1="201.05" x2="415.6" y2="201.05" class="cbt"/>
<line x1="414" y1="207.1" x2="415.6" y2="207.1" class="cbt"/>
<line x1="414" y1="213.15" x2="415.6" y2="213.15" class="cbt"/>
<line x1="414" y1="219.2" x2="415.6" y2="219.2" class="cbt"/>
<line x1="414" y1="225.25" x2="416.8" y2="225.25" class="cbt"/>
<line x1="414" y1="231.3" x2="415.6" y2="231.3" class="cbt"/>
<line x1="414" y1="237.35" x2="415.6" y2="237.35" class="cbt"/>
<line x1="414" y1="243.4" x2="415.6" y2="243.4" class="cbt"/>
<line x1="414" y1="249.45" x2="415.6" y2="249.45" class="cbt"/>
<line x1="414" y1="255.5" x2="416.8" y2="255.5" class="cbt"/>
<line x1="414" y1="351.6" x2="414" y2="533" class="cbax"/>
<line x1="414" y1="351.6" x2="416.8" y2="351.6" class="cbt"/>
<line x1="414" y1="357.65" x2="415.6" y2="357.65" class="cbt"/>
<line x1="414" y1="363.69" x2="415.6" y2="363.69" class="cbt"/>
<line x1="414" y1="369.74" x2="415.6" y2="369.74" class="cbt"/>
<line x1="414" y1="375.79" x2="415.6" y2="375.79" class="cbt"/>
<line x1="414" y1="381.83" x2="416.8" y2="381.83" class="cbt"/>
<line x1="414" y1="387.88" x2="415.6" y2="387.88" class="cbt"/>
<line x1="414" y1="393.93" x2="415.6" y2="393.93" class="cbt"/>
<line x1="414" y1="399.97" x2="415.6" y2="399.97" class="cbt"/>
<line x1="414" y1="406.02" x2="415.6" y2="406.02" class="cbt"/>
<line x1="414" y1="412.07" x2="416.8" y2="412.07" class="cbt"/>
<line x1="414" y1="418.11" x2="415.6" y2="418.11" class="cbt"/>
<line x1="414" y1="424.16" x2="415.6" y2="424.16" class="cbt"/>
<line x1="414" y1="430.21" x2="415.6" y2="430.21" class="cbt"/>
<line x1="414" y1="436.25" x2="415.6" y2="436.25" class="cbt"/>
<line x1="414" y1="442.3" x2="416.8" y2="442.3" class="cbt"/>
<line x1="414" y1="448.35" x2="415.6" y2="448.35" class="cbt"/>
<line x1="414" y1="454.39" x2="415.6" y2="454.39" class="cbt"/>
<line x1="414" y1="460.44" x2="415.6" y2="460.44" class="cbt"/>
<line x1="414" y1="466.49" x2="415.6" y2="466.49" class="cbt"/>
<line x1="414" y1="472.53" x2="416.8" y2="472.53" class="cbt"/>
<line x1="414" y1="478.58" x2="415.6" y2="478.58" class="cbt"/>
<line x1="414" y1="484.63" x2="415.6" y2="484.63" class="cbt"/>
<line x1="414" y1="490.67" x2="415.6" y2="490.67" class="cbt"/>
<line x1="414" y1="496.72" x2="415.6" y2="496.72" class="cbt"/>
<line x1="414" y1="502.77" x2="416.8" y2="502.77" class="cbt"/>
<line x1="414" y1="508.81" x2="415.6" y2="508.81" class="cbt"/>
<line x1="414" y1="514.86" x2="415.6" y2="514.86" class="cbt"/>
<line x1="414" y1="520.91" x2="415.6" y2="520.91" class="cbt"/>
<line x1="414" y1="526.95" x2="415.6" y2="526.95" class="cbt"/>
<line x1="414" y1="533" x2="416.8" y2="533" class="cbt"/>
<text class="cbl" font-size="20" transform="translate(425,79) scale(1.3,1)">1.5</text>
<text class="cbl" font-size="20" transform="translate(425,112) scale(1.3,1)">1</text>
<text class="cbl" font-size="20" transform="translate(424,144) scale(1.3,1)">0.5</text>
<text class="cbl" font-size="20" transform="translate(424,174) scale(1.3,1)">0</text>
<text class="cbl" font-size="20" transform="translate(425,204.6) scale(1.3,1)">−<tspan dx="1.5">0.5</tspan></text>
<text class="cbl" font-size="20" transform="translate(425,234) scale(1.3,1)">−<tspan dx="1.5">1</tspan></text>
<text class="cbl" font-size="20" transform="translate(425,263.3) scale(1.3,1)">−<tspan dx="1.5">1.5</tspan></text>
<text class="cbl" font-size="20" transform="translate(424,360.4) scale(1.3,1)">0.1</text>
<text class="cbl" font-size="20" transform="translate(424,451.8) scale(1.3,1)">0</text>
<text class="cbl" font-size="20" transform="translate(425,541.3) scale(1.3,1)">−<tspan dx="1.5">0.1</tspan></text>
<text class="ttl" x="397" y="57" font-size="20">E</text><text class="ttl" x="408.5" y="62.5" font-size="17">z</text>
<text class="ttl" x="397" y="335.3" font-size="20">E</text><text class="ttl" x="410" y="340" font-size="17">y</text>
</svg></body></html>
